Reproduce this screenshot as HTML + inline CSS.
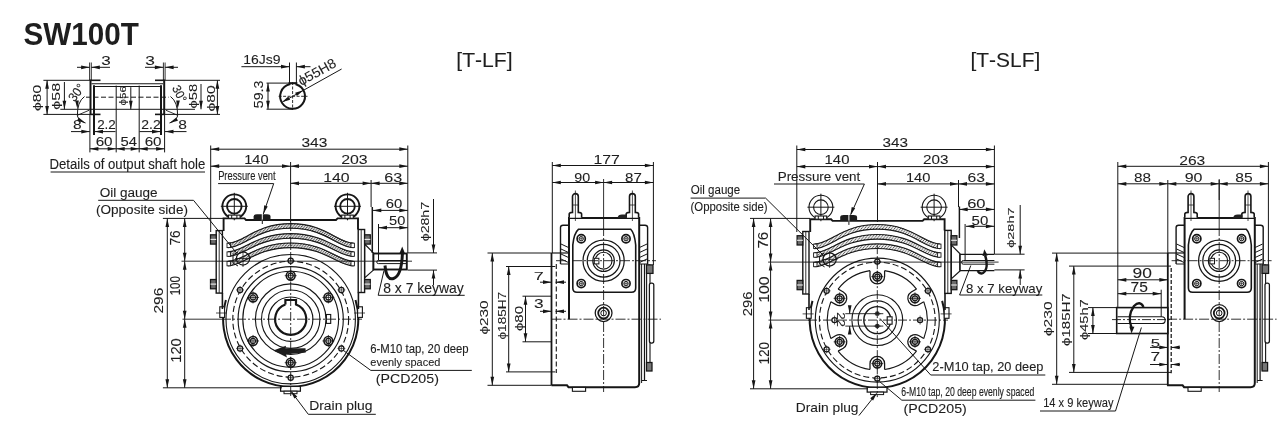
<!DOCTYPE html>
<html><head><meta charset="utf-8"><style>
html,body{margin:0;padding:0;background:#fff;}
svg{display:block;font-family:"Liberation Sans",sans-serif;font-kerning:none;filter:grayscale(100%);}
</style></head><body>
<svg width="1288" height="428" viewBox="0 0 1288 428">
<defs><pattern id="hatch" width="2.2" height="4" patternUnits="userSpaceOnUse" patternTransform="rotate(40)"><rect width="2.2" height="4" fill="#e0e0e0"/><rect width="1.05" height="4" fill="#1e1e1e"/></pattern>
<pattern id="hatch2" width="2.3" height="4" patternUnits="userSpaceOnUse" patternTransform="rotate(40)"><rect width="2.3" height="4" fill="#eeeeee"/><rect width="0.85" height="4" fill="#2a2a2a"/></pattern></defs>
<rect width="1288" height="428" fill="#fff"/>
<text transform="translate(81.45 33.75) translate(-58.01 11.25) scale(0.9209 1)" font-size="32.23" font-weight="bold" fill="#1e1e1e" stroke="#1e1e1e" stroke-width="0">SW100T</text>
<line x1="86" y1="97.2" x2="169" y2="97.2" stroke="#161616" stroke-width="1" stroke-dasharray="5 2.5" stroke-linecap="butt"/>
<line x1="90.5" y1="79.5" x2="90.5" y2="115" stroke="#161616" stroke-width="2" stroke-linecap="butt"/>
<line x1="164.2" y1="79.5" x2="164.2" y2="115" stroke="#161616" stroke-width="2" stroke-linecap="butt"/>
<line x1="94" y1="85.3" x2="94" y2="135" stroke="#161616" stroke-width="2" stroke-linecap="butt"/>
<line x1="161" y1="85.3" x2="161" y2="135" stroke="#161616" stroke-width="2" stroke-linecap="butt"/>
<line x1="90.5" y1="80.3" x2="100.5" y2="80.3" stroke="#161616" stroke-width="1.6" stroke-linecap="butt"/>
<line x1="155" y1="80.3" x2="164.2" y2="80.3" stroke="#161616" stroke-width="1.6" stroke-linecap="butt"/>
<line x1="90.5" y1="114.4" x2="100.5" y2="114.4" stroke="#161616" stroke-width="1.6" stroke-linecap="butt"/>
<line x1="155" y1="114.4" x2="164.2" y2="114.4" stroke="#161616" stroke-width="1.6" stroke-linecap="butt"/>
<line x1="89.6" y1="62.5" x2="89.6" y2="80" stroke="#161616" stroke-width="0.88" stroke-linecap="butt"/>
<line x1="91.3" y1="62.5" x2="91.3" y2="80" stroke="#161616" stroke-width="0.88" stroke-linecap="butt"/>
<line x1="163.4" y1="62.5" x2="163.4" y2="80" stroke="#161616" stroke-width="0.88" stroke-linecap="butt"/>
<line x1="165.1" y1="62.5" x2="165.1" y2="80" stroke="#161616" stroke-width="0.88" stroke-linecap="butt"/>
<line x1="77" y1="67.3" x2="89.6" y2="67.3" stroke="#161616" stroke-width="1" stroke-linecap="butt"/>
<path d="M89.6 67.3L81.1 69.15L81.1 65.45Z" fill="#161616"/>
<line x1="91.3" y1="67.3" x2="110" y2="67.3" stroke="#161616" stroke-width="1" stroke-linecap="butt"/>
<path d="M91.3 67.3L99.8 65.45L99.8 69.15Z" fill="#161616"/>
<line x1="145" y1="67.3" x2="163.4" y2="67.3" stroke="#161616" stroke-width="1" stroke-linecap="butt"/>
<path d="M163.4 67.3L154.9 69.15L154.9 65.45Z" fill="#161616"/>
<line x1="165.1" y1="67.3" x2="178" y2="67.3" stroke="#161616" stroke-width="1" stroke-linecap="butt"/>
<path d="M165.1 67.3L173.6 65.45L173.6 69.15Z" fill="#161616"/>
<text transform="translate(105.85 60.3) translate(-4.7 4.3) scale(1.3866 1)" font-size="12.32" fill="#1e1e1e" stroke="#1e1e1e" stroke-width="0.07">3</text>
<text transform="translate(150.1 60.3) translate(-4.76 4.3) scale(1.4037 1)" font-size="12.32" fill="#1e1e1e" stroke="#1e1e1e" stroke-width="0.07">3</text>
<line x1="43.4" y1="80.3" x2="90" y2="80.3" stroke="#161616" stroke-width="1" stroke-linecap="butt"/>
<line x1="164.5" y1="80.3" x2="220" y2="80.3" stroke="#161616" stroke-width="1" stroke-linecap="butt"/>
<line x1="43.4" y1="114.4" x2="90" y2="114.4" stroke="#161616" stroke-width="1" stroke-linecap="butt"/>
<line x1="164.5" y1="114.4" x2="220" y2="114.4" stroke="#161616" stroke-width="1" stroke-linecap="butt"/>
<line x1="91.5" y1="83.7" x2="163" y2="83.7" stroke="#161616" stroke-width="1.12" stroke-linecap="butt"/>
<line x1="95" y1="86.5" x2="161" y2="86.5" stroke="#161616" stroke-width="1.12" stroke-linecap="butt"/>
<line x1="60.3" y1="109.3" x2="195" y2="109.3" stroke="#161616" stroke-width="1" stroke-linecap="butt"/>
<line x1="116.2" y1="85.6" x2="116.2" y2="152.4" stroke="#161616" stroke-width="1" stroke-linecap="butt"/>
<line x1="139.2" y1="85.6" x2="139.2" y2="152.4" stroke="#161616" stroke-width="1" stroke-linecap="butt"/>
<line x1="130.8" y1="87.2" x2="130.8" y2="109.3" stroke="#161616" stroke-width="1" stroke-linecap="butt"/>
<path d="M130.8 109.3L128.95 100.8L132.65 100.8Z" fill="#161616"/>
<text transform="translate(122.9 95.85) rotate(-90) translate(-9.6 3.3) scale(1.2177 1)" font-size="9.46" fill="#1e1e1e" stroke="#1e1e1e" stroke-width="0.08">ϕ56</text>
<line x1="47.1" y1="80.3" x2="47.1" y2="114.4" stroke="#161616" stroke-width="1" stroke-linecap="butt"/>
<path d="M47.1 80.3L48.95 88.8L45.25 88.8Z" fill="#161616"/>
<path d="M47.1 114.4L45.25 105.9L48.95 105.9Z" fill="#161616"/>
<text transform="translate(37.5 98) rotate(-90) translate(-13.11 3.9) scale(1.4033 1)" font-size="11.17" fill="#1e1e1e" stroke="#1e1e1e" stroke-width="0.07">ϕ80</text>
<line x1="64.4" y1="82" x2="64.4" y2="109.3" stroke="#161616" stroke-width="1" stroke-linecap="butt"/>
<path d="M64.4 109.3L62.55 100.8L66.25 100.8Z" fill="#161616"/>
<text transform="translate(56.05 96.25) rotate(-90) translate(-13.38 3.75) scale(1.4927 1)" font-size="10.74" fill="#1e1e1e" stroke="#1e1e1e" stroke-width="0.07">ϕ58</text>
<line x1="217.4" y1="80.3" x2="217.4" y2="114.4" stroke="#161616" stroke-width="1" stroke-linecap="butt"/>
<path d="M217.4 80.3L219.25 88.8L215.55 88.8Z" fill="#161616"/>
<path d="M217.4 114.4L215.55 105.9L219.25 105.9Z" fill="#161616"/>
<text transform="translate(211.1 98.5) rotate(-90) translate(-13.11 3.9) scale(1.4033 1)" font-size="11.17" fill="#1e1e1e" stroke="#1e1e1e" stroke-width="0.07">ϕ80</text>
<line x1="201" y1="84" x2="201" y2="109.3" stroke="#161616" stroke-width="1" stroke-linecap="butt"/>
<path d="M201 109.3L199.15 100.8L202.85 100.8Z" fill="#161616"/>
<text transform="translate(193 96.25) rotate(-90) translate(-12.33 3.8) scale(1.3575 1)" font-size="10.89" fill="#1e1e1e" stroke="#1e1e1e" stroke-width="0.07">ϕ58</text>
<text transform="translate(76.4 92.6) rotate(-53) translate(-8.96 4.5) scale(0.9324 1)" font-size="12.89" fill="#1e1e1e" stroke="#1e1e1e" stroke-width="0.11">30°</text>
<path d="M84.5 96.5 Q77 102 77.4 116 Q79 121 85.5 123" fill="none" stroke="#161616" stroke-width="1"/>
<path d="M77.4 109L75.13 100.6L78.82 100.42Z" fill="#161616"/>
<path d="M85.5 123L77.07 120.85L78.72 117.54Z" fill="#161616"/>
<line x1="89" y1="110.3" x2="78" y2="115" stroke="#161616" stroke-width="0.88" stroke-linecap="butt"/>
<text transform="translate(179.6 93.6) rotate(62) translate(-8.69 4.3) scale(0.9470 1)" font-size="12.32" fill="#1e1e1e" stroke="#1e1e1e" stroke-width="0.11">30°</text>
<path d="M170.5 96.5 Q178 102 177.6 116 Q176 121 169.5 123" fill="none" stroke="#161616" stroke-width="1"/>
<path d="M177.6 109L176.18 100.42L179.87 100.6Z" fill="#161616"/>
<path d="M169.5 123L176.28 117.54L177.93 120.85Z" fill="#161616"/>
<line x1="166" y1="110.3" x2="177" y2="115" stroke="#161616" stroke-width="0.88" stroke-linecap="butt"/>
<line x1="71" y1="131.6" x2="89.8" y2="131.6" stroke="#161616" stroke-width="1" stroke-linecap="butt"/>
<path d="M89.8 131.6L81.3 133.45L81.3 129.75Z" fill="#161616"/>
<line x1="94.5" y1="131.6" x2="115.5" y2="131.6" stroke="#161616" stroke-width="1" stroke-linecap="butt"/>
<path d="M94.5 131.6L103 129.75L103 133.45Z" fill="#161616"/>
<line x1="139.5" y1="131.6" x2="160.5" y2="131.6" stroke="#161616" stroke-width="1" stroke-linecap="butt"/>
<path d="M160.5 131.6L152 133.45L152 129.75Z" fill="#161616"/>
<line x1="165" y1="131.6" x2="186.5" y2="131.6" stroke="#161616" stroke-width="1" stroke-linecap="butt"/>
<path d="M165 131.6L173.5 129.75L173.5 133.45Z" fill="#161616"/>
<text transform="translate(77.35 124.95) translate(-4.33 4.25) scale(1.2775 1)" font-size="12.18" fill="#1e1e1e" stroke="#1e1e1e" stroke-width="0.08">8</text>
<text transform="translate(106.45 124.95) translate(-9.32 4.25) scale(1.1017 1)" font-size="12.18" fill="#1e1e1e" stroke="#1e1e1e" stroke-width="0.09">2.2</text>
<text transform="translate(151 124.95) translate(-9.7 4.25) scale(1.1462 1)" font-size="12.18" fill="#1e1e1e" stroke="#1e1e1e" stroke-width="0.09">2.2</text>
<text transform="translate(182.65 124.95) translate(-4.33 4.25) scale(1.2775 1)" font-size="12.18" fill="#1e1e1e" stroke="#1e1e1e" stroke-width="0.08">8</text>
<line x1="89.9" y1="115" x2="89.9" y2="152.4" stroke="#161616" stroke-width="1" stroke-linecap="butt"/>
<line x1="164.6" y1="115" x2="164.6" y2="152.4" stroke="#161616" stroke-width="1" stroke-linecap="butt"/>
<line x1="89.9" y1="148.8" x2="116.2" y2="148.8" stroke="#161616" stroke-width="1" stroke-linecap="butt"/>
<path d="M89.9 148.8L98.4 146.95L98.4 150.65Z" fill="#161616"/>
<path d="M116.2 148.8L107.7 150.65L107.7 146.95Z" fill="#161616"/>
<line x1="116.2" y1="148.8" x2="139.2" y2="148.8" stroke="#161616" stroke-width="1" stroke-linecap="butt"/>
<path d="M116.2 148.8L124.7 146.95L124.7 150.65Z" fill="#161616"/>
<path d="M139.2 148.8L130.7 150.65L130.7 146.95Z" fill="#161616"/>
<line x1="139.2" y1="148.8" x2="164.6" y2="148.8" stroke="#161616" stroke-width="1" stroke-linecap="butt"/>
<path d="M139.2 148.8L147.7 146.95L147.7 150.65Z" fill="#161616"/>
<path d="M164.6 148.8L156.1 150.65L156.1 146.95Z" fill="#161616"/>
<text transform="translate(104.2 141.5) translate(-8.57 4.5) scale(1.1833 1)" font-size="12.89" fill="#1e1e1e" stroke="#1e1e1e" stroke-width="0.08">60</text>
<text transform="translate(128.75 141.5) translate(-8.35 4.5) scale(1.1526 1)" font-size="12.89" fill="#1e1e1e" stroke="#1e1e1e" stroke-width="0.09">54</text>
<text transform="translate(153.2 141.5) translate(-8.57 4.5) scale(1.1833 1)" font-size="12.89" fill="#1e1e1e" stroke="#1e1e1e" stroke-width="0.08">60</text>
<text transform="translate(127.8 164.1) translate(-78.28 4.9) scale(0.9253 1)" font-size="14.24" fill="#1e1e1e" stroke="#1e1e1e" stroke-width="0.11">Details of output shaft hole</text>
<line x1="50.6" y1="172" x2="205" y2="172" stroke="#161616" stroke-width="1" stroke-linecap="butt"/>
<path d="M289.5 84.3 A12.4 12.4 0 1 0 296.4 84.5 L296.4 83.3 L289.5 83.3 Z" fill="none" stroke="#161616" stroke-width="2"/>
<line x1="289.5" y1="62.5" x2="289.5" y2="84.3" stroke="#161616" stroke-width="1" stroke-linecap="butt"/>
<line x1="296.4" y1="62.5" x2="296.4" y2="84.3" stroke="#161616" stroke-width="1" stroke-linecap="butt"/>
<line x1="266.5" y1="83.1" x2="296.4" y2="83.1" stroke="#161616" stroke-width="1" stroke-linecap="butt"/>
<line x1="266.5" y1="109.2" x2="292.6" y2="109.2" stroke="#161616" stroke-width="1" stroke-linecap="butt"/>
<line x1="268" y1="83.1" x2="268" y2="109.2" stroke="#161616" stroke-width="1" stroke-linecap="butt"/>
<path d="M268 83.1L269.85 91.6L266.15 91.6Z" fill="#161616"/>
<path d="M268 109.2L266.15 100.7L269.85 100.7Z" fill="#161616"/>
<text transform="translate(258.35 94.45) rotate(-90) translate(-13.82 4.35) scale(1.1416 1)" font-size="12.46" fill="#1e1e1e" stroke="#1e1e1e" stroke-width="0.09">59.3</text>
<line x1="241.4" y1="66.7" x2="289.5" y2="66.7" stroke="#161616" stroke-width="1" stroke-linecap="butt"/>
<path d="M289.5 66.7L281 68.55L281 64.85Z" fill="#161616"/>
<line x1="296.4" y1="66.7" x2="310.5" y2="66.7" stroke="#161616" stroke-width="1" stroke-linecap="butt"/>
<path d="M296.4 66.7L304.9 64.85L304.9 68.55Z" fill="#161616"/>
<text transform="translate(262.2 60.2) translate(-18.87 4.2) scale(1.1624 1)" font-size="12.03" fill="#1e1e1e" stroke="#1e1e1e" stroke-width="0.09">16Js9</text>
<line x1="278.6" y1="96.3" x2="307.5" y2="96.3" stroke="#161616" stroke-width="0.88" stroke-dasharray="3 1.5" stroke-linecap="butt"/>
<line x1="292.6" y1="82" x2="292.6" y2="110" stroke="#161616" stroke-width="0.88" stroke-dasharray="3 1.5" stroke-linecap="butt"/>
<line x1="283.2" y1="101.6" x2="341.6" y2="69" stroke="#161616" stroke-width="1" stroke-linecap="butt"/>
<path d="M281.77 102.34L288.29 96.59L290.1 99.82Z" fill="#161616"/>
<path d="M303.43 90.26L296.91 96.01L295.1 92.78Z" fill="#161616"/>
<text transform="translate(316.9 71.9) rotate(-29.17) translate(-20.54 4.8) scale(1.0140 1)" font-size="13.75" fill="#1e1e1e" stroke="#1e1e1e" stroke-width="0.1">ϕ55H8</text>
<text transform="translate(484.4 59.35) translate(-28.1 7.25) scale(1.0001 1)" font-size="21.08" fill="#1e1e1e" stroke="#1e1e1e" stroke-width="0.1">[T-LF]</text>
<text transform="translate(1005.4 59.35) translate(-34.89 7.25) scale(0.9933 1)" font-size="21.08" fill="#1e1e1e" stroke="#1e1e1e" stroke-width="0.1">[T-SLF]</text>
<path d="M225.88 300 A67.6 67.6 0 1 0 355.52 300" fill="none" stroke="#161616" stroke-width="2"/>
<rect x="219.8" y="306.8" width="4.8" height="10.6" rx="0" fill="#fff" stroke="#161616" stroke-width="1.12"/>
<rect x="357.6" y="306.8" width="4.8" height="10.6" rx="0" fill="#fff" stroke="#161616" stroke-width="1.12"/>
<line x1="216" y1="313" x2="227" y2="313" stroke="#161616" stroke-width="0.75" stroke-linecap="butt"/>
<line x1="354" y1="313" x2="365" y2="313" stroke="#161616" stroke-width="0.75" stroke-linecap="butt"/>
<rect x="280.6" y="386.4" width="19.8" height="4.8" rx="0" fill="#fff" stroke="#161616" stroke-width="1.25"/>
<rect x="284" y="391.2" width="13" height="2.5" rx="0" fill="#fff" stroke="#161616" stroke-width="1"/>
<circle cx="290.7" cy="319.2" r="64.7" fill="none" stroke="#161616" stroke-width="1.12"/>
<circle cx="290.7" cy="319.2" r="57.9" fill="none" stroke="#161616" stroke-width="1.12" stroke-dasharray="6 3"/>
<circle cx="290.7" cy="319.2" r="52.6" fill="none" stroke="#161616" stroke-width="1.12"/>
<circle cx="290.7" cy="319.2" r="47.9" fill="none" stroke="#161616" stroke-width="1.12"/>
<circle cx="290.7" cy="319.2" r="35.3" fill="none" stroke="#161616" stroke-width="1.12"/>
<circle cx="290.7" cy="319.2" r="29.2" fill="none" stroke="#161616" stroke-width="1.12"/>
<circle cx="290.7" cy="319.2" r="22.2" fill="none" stroke="#161616" stroke-width="1.12"/>
<path d="M285.4 304.53 L285.4 300 L296 300 L296 304.53 A15.6 15.6 0 1 1 285.4 304.53" fill="none" stroke="#161616" stroke-width="2.2"/>
<rect x="326.4" y="314.5" width="4.3" height="8.9" rx="0" fill="#fff" stroke="#161616" stroke-width="1.12"/>
<circle cx="290.7" cy="260.7" r="2.6" fill="#fff" stroke="#161616" stroke-width="1.25"/>
<line x1="286.7" y1="260.7" x2="294.7" y2="260.7" stroke="#161616" stroke-width="0.62" stroke-linecap="butt"/>
<line x1="290.7" y1="256.7" x2="290.7" y2="264.7" stroke="#161616" stroke-width="0.62" stroke-linecap="butt"/>
<circle cx="341.36" cy="289.95" r="2.6" fill="#fff" stroke="#161616" stroke-width="1.25"/>
<line x1="337.36" y1="289.95" x2="345.36" y2="289.95" stroke="#161616" stroke-width="0.62" stroke-linecap="butt"/>
<line x1="341.36" y1="285.95" x2="341.36" y2="293.95" stroke="#161616" stroke-width="0.62" stroke-linecap="butt"/>
<circle cx="240.04" cy="289.95" r="2.6" fill="#fff" stroke="#161616" stroke-width="1.25"/>
<line x1="236.04" y1="289.95" x2="244.04" y2="289.95" stroke="#161616" stroke-width="0.62" stroke-linecap="butt"/>
<line x1="240.04" y1="285.95" x2="240.04" y2="293.95" stroke="#161616" stroke-width="0.62" stroke-linecap="butt"/>
<circle cx="240.04" cy="348.45" r="2.6" fill="#fff" stroke="#161616" stroke-width="1.25"/>
<line x1="236.04" y1="348.45" x2="244.04" y2="348.45" stroke="#161616" stroke-width="0.62" stroke-linecap="butt"/>
<line x1="240.04" y1="344.45" x2="240.04" y2="352.45" stroke="#161616" stroke-width="0.62" stroke-linecap="butt"/>
<circle cx="341.36" cy="348.45" r="2.6" fill="#fff" stroke="#161616" stroke-width="1.25"/>
<line x1="337.36" y1="348.45" x2="345.36" y2="348.45" stroke="#161616" stroke-width="0.62" stroke-linecap="butt"/>
<line x1="341.36" y1="344.45" x2="341.36" y2="352.45" stroke="#161616" stroke-width="0.62" stroke-linecap="butt"/>
<circle cx="290.7" cy="377.7" r="2.6" fill="#fff" stroke="#161616" stroke-width="1.25"/>
<line x1="286.7" y1="377.7" x2="294.7" y2="377.7" stroke="#161616" stroke-width="0.62" stroke-linecap="butt"/>
<line x1="290.7" y1="373.7" x2="290.7" y2="381.7" stroke="#161616" stroke-width="0.62" stroke-linecap="butt"/>
<circle cx="290.7" cy="275.7" r="4.4" fill="#fff" stroke="#161616" stroke-width="1.6"/>
<circle cx="290.7" cy="275.7" r="2.5" fill="none" stroke="#161616" stroke-width="1.25"/>
<line x1="284.7" y1="275.7" x2="296.7" y2="275.7" stroke="#161616" stroke-width="0.75" stroke-linecap="butt"/>
<line x1="290.7" y1="269.7" x2="290.7" y2="281.7" stroke="#161616" stroke-width="0.75" stroke-linecap="butt"/>
<circle cx="328.37" cy="297.45" r="4.4" fill="#fff" stroke="#161616" stroke-width="1.6"/>
<circle cx="328.37" cy="297.45" r="2.5" fill="none" stroke="#161616" stroke-width="1.25"/>
<line x1="322.37" y1="297.45" x2="334.37" y2="297.45" stroke="#161616" stroke-width="0.75" stroke-linecap="butt"/>
<line x1="328.37" y1="291.45" x2="328.37" y2="303.45" stroke="#161616" stroke-width="0.75" stroke-linecap="butt"/>
<circle cx="253.03" cy="297.45" r="4.4" fill="#fff" stroke="#161616" stroke-width="1.6"/>
<circle cx="253.03" cy="297.45" r="2.5" fill="none" stroke="#161616" stroke-width="1.25"/>
<line x1="247.03" y1="297.45" x2="259.03" y2="297.45" stroke="#161616" stroke-width="0.75" stroke-linecap="butt"/>
<line x1="253.03" y1="291.45" x2="253.03" y2="303.45" stroke="#161616" stroke-width="0.75" stroke-linecap="butt"/>
<circle cx="253.03" cy="340.95" r="4.4" fill="#fff" stroke="#161616" stroke-width="1.6"/>
<circle cx="253.03" cy="340.95" r="2.5" fill="none" stroke="#161616" stroke-width="1.25"/>
<line x1="247.03" y1="340.95" x2="259.03" y2="340.95" stroke="#161616" stroke-width="0.75" stroke-linecap="butt"/>
<line x1="253.03" y1="334.95" x2="253.03" y2="346.95" stroke="#161616" stroke-width="0.75" stroke-linecap="butt"/>
<circle cx="328.37" cy="340.95" r="4.4" fill="#fff" stroke="#161616" stroke-width="1.6"/>
<circle cx="328.37" cy="340.95" r="2.5" fill="none" stroke="#161616" stroke-width="1.25"/>
<line x1="322.37" y1="340.95" x2="334.37" y2="340.95" stroke="#161616" stroke-width="0.75" stroke-linecap="butt"/>
<line x1="328.37" y1="334.95" x2="328.37" y2="346.95" stroke="#161616" stroke-width="0.75" stroke-linecap="butt"/>
<circle cx="290.7" cy="362.7" r="4.4" fill="#fff" stroke="#161616" stroke-width="1.6"/>
<circle cx="290.7" cy="362.7" r="2.5" fill="none" stroke="#161616" stroke-width="1.25"/>
<line x1="284.7" y1="362.7" x2="296.7" y2="362.7" stroke="#161616" stroke-width="0.75" stroke-linecap="butt"/>
<line x1="290.7" y1="356.7" x2="290.7" y2="368.7" stroke="#161616" stroke-width="0.75" stroke-linecap="butt"/>
<path d="M273.3 350.6 L286 345.8 L285.4 348.6 L305.5 348.2 L305.8 352.4 L286 354.3 L287 357.4 Z" fill="#1c1c1c"/>
<path d="M223.6 231 L223.6 218.4 L244.5 218.4 L246 220 L336 220 L337.6 218.4 L358 218.4 L358 229.5" fill="none" stroke="#161616" stroke-width="1.9"/>
<rect x="216.2" y="230.6" width="6.2" height="62.5" rx="0" fill="none" stroke="#161616" stroke-width="1.4"/>
<line x1="219.2" y1="231" x2="219.2" y2="293" stroke="#161616" stroke-width="0.88" stroke-linecap="butt"/>
<rect x="358.2" y="229.5" width="6.4" height="63" rx="0" fill="none" stroke="#161616" stroke-width="1.4"/>
<line x1="361.2" y1="230" x2="361.2" y2="292.5" stroke="#161616" stroke-width="0.88" stroke-linecap="butt"/>
<rect x="210.5" y="234.8" width="5.7" height="9.3" rx="0" fill="#6a6a6a" stroke="#161616" stroke-width="1.25"/>
<line x1="210.5" y1="239.4" x2="216.2" y2="239.4" stroke="#eee" stroke-width="1.12" stroke-linecap="butt"/>
<rect x="364.6" y="234.8" width="5.7" height="9.3" rx="0" fill="#6a6a6a" stroke="#161616" stroke-width="1.25"/>
<line x1="364.6" y1="239.4" x2="370.3" y2="239.4" stroke="#eee" stroke-width="1.12" stroke-linecap="butt"/>
<rect x="210.5" y="279.5" width="5.7" height="9.3" rx="0" fill="#6a6a6a" stroke="#161616" stroke-width="1.25"/>
<line x1="210.5" y1="284.1" x2="216.2" y2="284.1" stroke="#eee" stroke-width="1.12" stroke-linecap="butt"/>
<rect x="364.6" y="279.5" width="5.7" height="9.3" rx="0" fill="#6a6a6a" stroke="#161616" stroke-width="1.25"/>
<line x1="364.6" y1="284.1" x2="370.3" y2="284.1" stroke="#eee" stroke-width="1.12" stroke-linecap="butt"/>
<line x1="222.4" y1="293" x2="222.4" y2="309" stroke="#161616" stroke-width="1.6" stroke-linecap="butt"/>
<line x1="358.4" y1="292.5" x2="358.4" y2="309" stroke="#161616" stroke-width="1.6" stroke-linecap="butt"/>
<circle cx="234.3" cy="206.3" r="11.9" fill="none" stroke="#161616" stroke-width="1.9"/>
<circle cx="234.3" cy="206.3" r="7.3" fill="none" stroke="#161616" stroke-width="1.9"/>
<line x1="220.8" y1="206.3" x2="247.8" y2="206.3" stroke="#161616" stroke-width="1" stroke-linecap="butt"/>
<line x1="234.3" y1="192.8" x2="234.3" y2="220.3" stroke="#161616" stroke-width="1" stroke-linecap="butt"/>
<rect x="228.5" y="215.1" width="11.6" height="3.2" rx="0" fill="#fff" stroke="#161616" stroke-width="1.12"/>
<line x1="231.7" y1="215.1" x2="231.7" y2="218.3" stroke="#161616" stroke-width="1" stroke-linecap="butt"/>
<line x1="236.9" y1="215.1" x2="236.9" y2="218.3" stroke="#161616" stroke-width="1" stroke-linecap="butt"/>
<circle cx="347.5" cy="206.3" r="11.9" fill="none" stroke="#161616" stroke-width="1.9"/>
<circle cx="347.5" cy="206.3" r="7.3" fill="none" stroke="#161616" stroke-width="1.9"/>
<line x1="334" y1="206.3" x2="361" y2="206.3" stroke="#161616" stroke-width="1" stroke-linecap="butt"/>
<line x1="347.5" y1="192.8" x2="347.5" y2="220.3" stroke="#161616" stroke-width="1" stroke-linecap="butt"/>
<rect x="341.7" y="215.1" width="11.6" height="3.2" rx="0" fill="#fff" stroke="#161616" stroke-width="1.12"/>
<line x1="344.9" y1="215.1" x2="344.9" y2="218.3" stroke="#161616" stroke-width="1" stroke-linecap="butt"/>
<line x1="350.1" y1="215.1" x2="350.1" y2="218.3" stroke="#161616" stroke-width="1" stroke-linecap="butt"/>
<path d="M253.6 220 L253.6 216.5 Q253.6 214.2 257 214.2 L267 214.2 Q270.5 214.2 270.5 216.5 L270.5 220 Z" fill="#1c1c1c"/>
<line x1="262.3" y1="212" x2="262.3" y2="224" stroke="#fff" stroke-width="1" stroke-linecap="butt"/>
<line x1="262.3" y1="219.5" x2="262.3" y2="224" stroke="#161616" stroke-width="1" stroke-linecap="butt"/>
<path d="M227.8 245.4 C243.8 245.4 255.7 225.9 290.7 225.9 C325.7 225.9 337.6 245.4 353.6 245.4" fill="none" stroke="url(#hatch)" stroke-width="5"/>
<path d="M227.8 243.1 C243.8 243.1 255.7 223.6 290.7 223.6 C325.7 223.6 337.6 243.1 353.6 243.1" fill="none" stroke="#1a1a1a" stroke-width="1.12"/>
<path d="M227.8 247.7 C243.8 247.7 255.7 228.2 290.7 228.2 C325.7 228.2 337.6 247.7 353.6 247.7" fill="none" stroke="#1a1a1a" stroke-width="1.12"/>
<path d="M227.8 244.6 C243.8 244.6 255.7 225.1 290.7 225.1 C325.7 225.1 337.6 244.6 353.6 244.6" fill="none" stroke="#f4f4f4" stroke-width="0.62"/>
<path d="M227.8 246.2 C243.8 246.2 255.7 226.7 290.7 226.7 C325.7 226.7 337.6 246.2 353.6 246.2" fill="none" stroke="#f4f4f4" stroke-width="0.62"/>
<rect x="227" y="243.2" width="3.4" height="4.4" rx="0" fill="#fff" stroke="#161616" stroke-width="0.88"/>
<rect x="351" y="243.2" width="3.4" height="4.4" rx="0" fill="#fff" stroke="#161616" stroke-width="0.88"/>
<path d="M227.8 254.1 C243.8 254.1 255.7 235.9 290.7 235.9 C325.7 235.9 337.6 254.1 353.6 254.1" fill="none" stroke="url(#hatch)" stroke-width="5"/>
<path d="M227.8 251.8 C243.8 251.8 255.7 233.6 290.7 233.6 C325.7 233.6 337.6 251.8 353.6 251.8" fill="none" stroke="#1a1a1a" stroke-width="1.12"/>
<path d="M227.8 256.4 C243.8 256.4 255.7 238.2 290.7 238.2 C325.7 238.2 337.6 256.4 353.6 256.4" fill="none" stroke="#1a1a1a" stroke-width="1.12"/>
<path d="M227.8 253.3 C243.8 253.3 255.7 235.1 290.7 235.1 C325.7 235.1 337.6 253.3 353.6 253.3" fill="none" stroke="#f4f4f4" stroke-width="0.62"/>
<path d="M227.8 254.9 C243.8 254.9 255.7 236.7 290.7 236.7 C325.7 236.7 337.6 254.9 353.6 254.9" fill="none" stroke="#f4f4f4" stroke-width="0.62"/>
<rect x="227" y="251.9" width="3.4" height="4.4" rx="0" fill="#fff" stroke="#161616" stroke-width="0.88"/>
<rect x="351" y="251.9" width="3.4" height="4.4" rx="0" fill="#fff" stroke="#161616" stroke-width="0.88"/>
<path d="M227.8 263.6 C243.8 263.6 255.7 245.3 290.7 245.3 C325.7 245.3 337.6 263.6 353.6 263.6" fill="none" stroke="url(#hatch)" stroke-width="5"/>
<path d="M227.8 261.3 C243.8 261.3 255.7 243 290.7 243 C325.7 243 337.6 261.3 353.6 261.3" fill="none" stroke="#1a1a1a" stroke-width="1.12"/>
<path d="M227.8 265.9 C243.8 265.9 255.7 247.6 290.7 247.6 C325.7 247.6 337.6 265.9 353.6 265.9" fill="none" stroke="#1a1a1a" stroke-width="1.12"/>
<path d="M227.8 262.8 C243.8 262.8 255.7 244.5 290.7 244.5 C325.7 244.5 337.6 262.8 353.6 262.8" fill="none" stroke="#f4f4f4" stroke-width="0.62"/>
<path d="M227.8 264.4 C243.8 264.4 255.7 246.1 290.7 246.1 C325.7 246.1 337.6 264.4 353.6 264.4" fill="none" stroke="#f4f4f4" stroke-width="0.62"/>
<rect x="227" y="261.4" width="3.4" height="4.4" rx="0" fill="#fff" stroke="#161616" stroke-width="0.88"/>
<rect x="351" y="261.4" width="3.4" height="4.4" rx="0" fill="#fff" stroke="#161616" stroke-width="0.88"/>
<circle cx="243" cy="258.5" r="6.6" fill="none" stroke="#161616" stroke-width="1.25"/>
<line x1="235" y1="258.5" x2="251" y2="258.5" stroke="#161616" stroke-width="0.75" stroke-linecap="butt"/>
<line x1="243" y1="250" x2="243" y2="267" stroke="#161616" stroke-width="0.75" stroke-linecap="butt"/>
<path d="M238 252 L233 255 L233 263 L238 266" fill="none" stroke="#161616" stroke-width="1"/>
<path d="M364.6 244 L373.4 252.9 L373.4 270.1 L364.6 278 Z" fill="none" stroke="#161616" stroke-width="1.2"/>
<rect x="373.4" y="253.5" width="33.4" height="16" rx="0" fill="none" stroke="#161616" stroke-width="1.9"/>
<path d="M378.3 260.5 L406.2 260.5 M378.3 263.6 L406.2 263.6 M378.3 260.5 A1.55 1.55 0 0 0 378.3 263.6" fill="none" stroke="#161616" stroke-width="1"/>
<line x1="181.5" y1="261.2" x2="412" y2="261.2" stroke="#161616" stroke-width="0.88" stroke-linecap="butt"/>
<line x1="210.7" y1="145.5" x2="210.7" y2="232" stroke="#161616" stroke-width="1" stroke-linecap="butt"/>
<line x1="407.8" y1="145.5" x2="407.8" y2="253" stroke="#161616" stroke-width="1" stroke-linecap="butt"/>
<line x1="210.7" y1="149.2" x2="407.8" y2="149.2" stroke="#161616" stroke-width="1" stroke-linecap="butt"/>
<path d="M210.7 149.2L219.2 147.35L219.2 151.05Z" fill="#161616"/>
<path d="M407.8 149.2L399.3 151.05L399.3 147.35Z" fill="#161616"/>
<line x1="210.7" y1="166.2" x2="290.5" y2="166.2" stroke="#161616" stroke-width="1" stroke-linecap="butt"/>
<path d="M210.7 166.2L219.2 164.35L219.2 168.05Z" fill="#161616"/>
<path d="M290.5 166.2L282 168.05L282 164.35Z" fill="#161616"/>
<line x1="290.5" y1="166.2" x2="407.8" y2="166.2" stroke="#161616" stroke-width="1" stroke-linecap="butt"/>
<path d="M290.5 166.2L299 164.35L299 168.05Z" fill="#161616"/>
<path d="M407.8 166.2L399.3 168.05L399.3 164.35Z" fill="#161616"/>
<line x1="290.5" y1="183.3" x2="371.1" y2="183.3" stroke="#161616" stroke-width="1" stroke-linecap="butt"/>
<path d="M290.5 183.3L299 181.45L299 185.15Z" fill="#161616"/>
<path d="M371.1 183.3L362.6 185.15L362.6 181.45Z" fill="#161616"/>
<line x1="371.1" y1="183.3" x2="407.8" y2="183.3" stroke="#161616" stroke-width="1" stroke-linecap="butt"/>
<path d="M371.1 183.3L379.6 181.45L379.6 185.15Z" fill="#161616"/>
<path d="M407.8 183.3L399.3 185.15L399.3 181.45Z" fill="#161616"/>
<line x1="290.6" y1="162" x2="290.6" y2="222" stroke="#161616" stroke-width="1" stroke-linecap="butt"/>
<line x1="371.1" y1="180" x2="371.1" y2="207" stroke="#161616" stroke-width="1" stroke-linecap="butt"/>
<line x1="372.3" y1="207" x2="372.3" y2="253" stroke="#161616" stroke-width="1.5" stroke-linecap="butt"/>
<line x1="378.5" y1="224" x2="378.5" y2="260" stroke="#161616" stroke-width="1" stroke-linecap="butt"/>
<line x1="372.8" y1="210.4" x2="407.8" y2="210.4" stroke="#161616" stroke-width="1" stroke-linecap="butt"/>
<path d="M372.8 210.4L381.3 208.55L381.3 212.25Z" fill="#161616"/>
<path d="M407.8 210.4L399.3 212.25L399.3 208.55Z" fill="#161616"/>
<line x1="378.5" y1="227.7" x2="407.8" y2="227.7" stroke="#161616" stroke-width="1" stroke-linecap="butt"/>
<path d="M378.5 227.7L387 225.85L387 229.55Z" fill="#161616"/>
<path d="M407.8 227.7L399.3 229.55L399.3 225.85Z" fill="#161616"/>
<line x1="407.8" y1="252.9" x2="437" y2="252.9" stroke="#161616" stroke-width="1" stroke-linecap="butt"/>
<line x1="407.8" y1="270.1" x2="437" y2="270.1" stroke="#161616" stroke-width="1" stroke-linecap="butt"/>
<line x1="433.5" y1="199" x2="433.5" y2="252.9" stroke="#161616" stroke-width="1" stroke-linecap="butt"/>
<path d="M433.5 252.9L431.65 244.4L435.35 244.4Z" fill="#161616"/>
<line x1="433.5" y1="270.1" x2="433.5" y2="285" stroke="#161616" stroke-width="1" stroke-linecap="butt"/>
<path d="M433.5 270.1L435.35 278.6L431.65 278.6Z" fill="#161616"/>
<line x1="162.9" y1="218.4" x2="223.6" y2="218.4" stroke="#161616" stroke-width="1" stroke-linecap="butt"/>
<line x1="167.3" y1="218.4" x2="167.3" y2="387.8" stroke="#161616" stroke-width="1" stroke-linecap="butt"/>
<path d="M167.3 218.4L169.15 226.9L165.45 226.9Z" fill="#161616"/>
<path d="M167.3 387.8L165.45 379.3L169.15 379.3Z" fill="#161616"/>
<line x1="184.7" y1="218.4" x2="184.7" y2="261.2" stroke="#161616" stroke-width="1" stroke-linecap="butt"/>
<path d="M184.7 218.4L186.55 226.9L182.85 226.9Z" fill="#161616"/>
<path d="M184.7 261.2L182.85 252.7L186.55 252.7Z" fill="#161616"/>
<line x1="184.7" y1="261.2" x2="184.7" y2="319.2" stroke="#161616" stroke-width="1" stroke-linecap="butt"/>
<path d="M184.7 261.2L186.55 269.7L182.85 269.7Z" fill="#161616"/>
<path d="M184.7 319.2L182.85 310.7L186.55 310.7Z" fill="#161616"/>
<line x1="184.7" y1="319.2" x2="184.7" y2="387.8" stroke="#161616" stroke-width="1" stroke-linecap="butt"/>
<path d="M184.7 319.2L186.55 327.7L182.85 327.7Z" fill="#161616"/>
<path d="M184.7 387.8L182.85 379.3L186.55 379.3Z" fill="#161616"/>
<line x1="162.9" y1="387.8" x2="282" y2="387.8" stroke="#161616" stroke-width="1" stroke-linecap="butt"/>
<line x1="182.5" y1="319.2" x2="222" y2="319.2" stroke="#161616" stroke-width="0.88" stroke-linecap="butt"/>
<line x1="222" y1="319.2" x2="362" y2="319.2" stroke="#161616" stroke-width="0.88" stroke-dasharray="9 2 2 2" stroke-linecap="butt"/>
<line x1="290.7" y1="222" x2="290.7" y2="396" stroke="#161616" stroke-width="0.88" stroke-dasharray="9 2 2 2" stroke-linecap="butt"/>
<text transform="translate(314.35 142.15) translate(-12.94 4.65) scale(1.1686 1)" font-size="13.32" fill="#1e1e1e" stroke="#1e1e1e" stroke-width="0.09">343</text>
<text transform="translate(256.65 159.15) translate(-12.46 4.65) scale(1.0969 1)" font-size="13.32" fill="#1e1e1e" stroke="#1e1e1e" stroke-width="0.09">140</text>
<text transform="translate(354.5 159.15) translate(-13.3 4.65) scale(1.1919 1)" font-size="13.32" fill="#1e1e1e" stroke="#1e1e1e" stroke-width="0.08">203</text>
<text transform="translate(336.7 177.15) translate(-13.51 4.65) scale(1.1887 1)" font-size="13.32" fill="#1e1e1e" stroke="#1e1e1e" stroke-width="0.08">140</text>
<text transform="translate(393.25 177.15) translate(-9.07 4.65) scale(1.2170 1)" font-size="13.32" fill="#1e1e1e" stroke="#1e1e1e" stroke-width="0.08">63</text>
<text transform="translate(394.2 204.05) translate(-8.35 4.35) scale(1.1927 1)" font-size="12.46" fill="#1e1e1e" stroke="#1e1e1e" stroke-width="0.08">60</text>
<text transform="translate(397.15 221.05) translate(-8.14 4.35) scale(1.1725 1)" font-size="12.46" fill="#1e1e1e" stroke="#1e1e1e" stroke-width="0.09">50</text>
<text transform="translate(425.75 221.7) rotate(-90) translate(-19.55 3.55) scale(1.3860 1)" font-size="10.17" fill="#1e1e1e" stroke="#1e1e1e" stroke-width="0.07">ϕ28h7</text>
<text transform="translate(423.85 287.65) translate(-40.66 4.85) scale(0.9907 1)" font-size="14.1" fill="#1e1e1e" stroke="#1e1e1e" stroke-width="0.1">8 x 7 keyway</text>
<line x1="378.2" y1="295.3" x2="464.7" y2="295.3" stroke="#161616" stroke-width="1" stroke-linecap="butt"/>
<line x1="378.2" y1="295.3" x2="384" y2="270.5" stroke="#161616" stroke-width="1" stroke-linecap="butt"/>
<path d="M385 265.5 Q386.5 281 393.5 278.5 Q401.5 276 402.4 254" fill="none" stroke="#161616" stroke-width="3"/>
<path d="M402.2 246.5L405 253.5L399.4 253.5Z" fill="#161616"/>
<text transform="translate(175.4 237.85) rotate(-90) translate(-7.65 4.8) scale(0.9937 1)" font-size="13.75" fill="#1e1e1e" stroke="#1e1e1e" stroke-width="0.1">76</text>
<text transform="translate(175.4 285.45) rotate(-90) translate(-9.83 4.8) scale(0.8379 1)" font-size="13.75" fill="#1e1e1e" stroke="#1e1e1e" stroke-width="0.12">100</text>
<text transform="translate(158.7 300.55) rotate(-90) translate(-12.93 4.7) scale(1.1462 1)" font-size="13.47" fill="#1e1e1e" stroke="#1e1e1e" stroke-width="0.09">296</text>
<text transform="translate(175.8 350.25) rotate(-90) translate(-12.57 4.8) scale(1.0720 1)" font-size="13.75" fill="#1e1e1e" stroke="#1e1e1e" stroke-width="0.09">120</text>
<text transform="translate(247.25 175.1) translate(-29.11 4.5) scale(0.7129 1)" font-size="13.08" fill="#1e1e1e" stroke="#1e1e1e" stroke-width="0.14">Pressure vent</text>
<line x1="218.1" y1="183.6" x2="273.7" y2="183.6" stroke="#161616" stroke-width="1" stroke-linecap="butt"/>
<line x1="273.7" y1="183.6" x2="263.3" y2="214" stroke="#161616" stroke-width="1" stroke-linecap="butt"/>
<path d="M263.3 214L264.21 205.35L267.72 206.51Z" fill="#161616"/>
<text transform="translate(128.7 192.25) translate(-29.04 4.55) scale(1.0252 1)" font-size="13.23" fill="#1e1e1e" stroke="#1e1e1e" stroke-width="0.1">Oil gauge</text>
<text transform="translate(142 209.05) translate(-46.04 4.55) scale(1.0267 1)" font-size="13.23" fill="#1e1e1e" stroke="#1e1e1e" stroke-width="0.1">(Opposite side)</text>
<line x1="98.2" y1="200.3" x2="193.5" y2="200.3" stroke="#161616" stroke-width="1" stroke-linecap="butt"/>
<line x1="193.5" y1="200.3" x2="237" y2="253.5" stroke="#161616" stroke-width="1" stroke-linecap="butt"/>
<text transform="translate(419.55 348.9) translate(-49.33 4.2) scale(0.9443 1)" font-size="12.03" fill="#1e1e1e" stroke="#1e1e1e" stroke-width="0.11">6-M10 tap, 20 deep</text>
<text transform="translate(405.25 361.7) translate(-34.92 4.2) scale(0.9460 1)" font-size="11.59" fill="#1e1e1e" stroke="#1e1e1e" stroke-width="0.11">evenly spaced</text>
<line x1="370.8" y1="370.4" x2="471.8" y2="370.4" stroke="#161616" stroke-width="1" stroke-linecap="butt"/>
<line x1="370.8" y1="370.4" x2="343.5" y2="350.5" stroke="#161616" stroke-width="1" stroke-linecap="butt"/>
<text transform="translate(407.35 379.1) translate(-31.53 4.1) scale(1.1901 1)" font-size="11.92" fill="#1e1e1e" stroke="#1e1e1e" stroke-width="0.08">(PCD205)</text>
<text transform="translate(341 405) translate(-31.84 4.5) scale(1.0639 1)" font-size="13.08" fill="#1e1e1e" stroke="#1e1e1e" stroke-width="0.09">Drain plug</text>
<line x1="308.3" y1="414.3" x2="375.8" y2="414.3" stroke="#161616" stroke-width="1" stroke-linecap="butt"/>
<line x1="308.3" y1="414.3" x2="291.5" y2="392" stroke="#161616" stroke-width="1" stroke-linecap="butt"/>
<path d="M290.7 390.7L297.28 396.39L294.32 398.61Z" fill="#161616"/>
<path d="M560.5 264 L560.5 227.5 Q560.5 225.2 563 225.2 L569 225.2" fill="none" stroke="#161616" stroke-width="1.4"/>
<path d="M647.6 264 L647.6 227.5 Q647.6 225.2 645 225.2 L639 225.2" fill="none" stroke="#161616" stroke-width="1.4"/>
<line x1="561" y1="244" x2="568.5" y2="247.5" stroke="#161616" stroke-width="1" stroke-linecap="butt"/>
<line x1="647" y1="244" x2="639.5" y2="247.5" stroke="#161616" stroke-width="1" stroke-linecap="butt"/>
<line x1="561" y1="249" x2="568.5" y2="252.5" stroke="#161616" stroke-width="1" stroke-linecap="butt"/>
<line x1="647" y1="249" x2="639.5" y2="252.5" stroke="#161616" stroke-width="1" stroke-linecap="butt"/>
<line x1="561" y1="254" x2="568.5" y2="257.5" stroke="#161616" stroke-width="1" stroke-linecap="butt"/>
<line x1="647" y1="254" x2="639.5" y2="257.5" stroke="#161616" stroke-width="1" stroke-linecap="butt"/>
<line x1="561" y1="259" x2="568.5" y2="262.5" stroke="#161616" stroke-width="1" stroke-linecap="butt"/>
<line x1="647" y1="259" x2="639.5" y2="262.5" stroke="#161616" stroke-width="1" stroke-linecap="butt"/>
<line x1="560.5" y1="264" x2="569" y2="264" stroke="#161616" stroke-width="1" stroke-linecap="butt"/>
<line x1="647.6" y1="264" x2="639" y2="264" stroke="#161616" stroke-width="1" stroke-linecap="butt"/>
<path d="M569 319.2 L569 218 L639.2 218 L639.2 383 Q639.2 387.2 635 387.2 L568.5 387.2 L567 385.3 L551.5 385.3" fill="none" stroke="#161616" stroke-width="2"/>
<line x1="644.5" y1="264" x2="644.5" y2="380.5" stroke="#161616" stroke-width="1.25" stroke-linecap="butt"/>
<line x1="641.6" y1="264" x2="641.6" y2="383" stroke="#161616" stroke-width="1" stroke-linecap="butt"/>
<line x1="641.6" y1="380.5" x2="647" y2="380.5" stroke="#161616" stroke-width="1" stroke-linecap="butt"/>
<rect x="646.6" y="265" width="3.4" height="105" rx="0" fill="#fff" stroke="#161616" stroke-width="1.12"/>
<rect x="649.4" y="283" width="4.4" height="60" rx="2" fill="#fff" stroke="#161616" stroke-width="1.25"/>
<rect x="646.5" y="264.9" width="6.5" height="8.5" rx="0" fill="#777" stroke="#161616" stroke-width="1.25"/>
<rect x="646.5" y="362.5" width="5.5" height="8.5" rx="0" fill="#777" stroke="#161616" stroke-width="1.25"/>
<path d="M577 292.3 Q572.8 292.3 572.8 288 L572.8 245 Q574 233 578.4 229.3 L630.7 229.3 Q634.5 233 635.7 245 L635.7 288 Q635.7 292.3 631.5 292.3 Z" fill="none" stroke="#161616" stroke-width="1.6"/>
<circle cx="581.2" cy="238.7" r="4.1" fill="none" stroke="#161616" stroke-width="1.7"/>
<circle cx="581.2" cy="238.7" r="2.2" fill="none" stroke="#161616" stroke-width="1"/>
<line x1="579.2" y1="238.7" x2="583.2" y2="238.7" stroke="#161616" stroke-width="0.62" stroke-linecap="butt"/>
<line x1="581.2" y1="236.7" x2="581.2" y2="240.7" stroke="#161616" stroke-width="0.62" stroke-linecap="butt"/>
<circle cx="626" cy="238.7" r="4.1" fill="none" stroke="#161616" stroke-width="1.7"/>
<circle cx="626" cy="238.7" r="2.2" fill="none" stroke="#161616" stroke-width="1"/>
<line x1="624" y1="238.7" x2="628" y2="238.7" stroke="#161616" stroke-width="0.62" stroke-linecap="butt"/>
<line x1="626" y1="236.7" x2="626" y2="240.7" stroke="#161616" stroke-width="0.62" stroke-linecap="butt"/>
<circle cx="581.2" cy="283.6" r="4.1" fill="none" stroke="#161616" stroke-width="1.7"/>
<circle cx="581.2" cy="283.6" r="2.2" fill="none" stroke="#161616" stroke-width="1"/>
<line x1="579.2" y1="283.6" x2="583.2" y2="283.6" stroke="#161616" stroke-width="0.62" stroke-linecap="butt"/>
<line x1="581.2" y1="281.6" x2="581.2" y2="285.6" stroke="#161616" stroke-width="0.62" stroke-linecap="butt"/>
<circle cx="626" cy="283.6" r="4.1" fill="none" stroke="#161616" stroke-width="1.7"/>
<circle cx="626" cy="283.6" r="2.2" fill="none" stroke="#161616" stroke-width="1"/>
<line x1="624" y1="283.6" x2="628" y2="283.6" stroke="#161616" stroke-width="0.62" stroke-linecap="butt"/>
<line x1="626" y1="281.6" x2="626" y2="285.6" stroke="#161616" stroke-width="0.62" stroke-linecap="butt"/>
<circle cx="603.6" cy="260.7" r="20.6" fill="none" stroke="#161616" stroke-width="1.25"/>
<circle cx="603.6" cy="260.7" r="16.4" fill="none" stroke="#161616" stroke-width="1.25"/>
<circle cx="603.6" cy="260.7" r="10.8" fill="none" stroke="#161616" stroke-width="1.2"/>
<circle cx="603.6" cy="260.7" r="8.4" fill="none" stroke="#161616" stroke-width="1.12"/>
<rect x="594.3" y="258.3" width="4.6" height="5.6" rx="0" fill="#fff" stroke="#161616" stroke-width="1"/>
<circle cx="603.6" cy="313.1" r="8.4" fill="none" stroke="#161616" stroke-width="1.25"/>
<circle cx="603.6" cy="313.1" r="5.4" fill="none" stroke="#161616" stroke-width="1.8"/>
<circle cx="603.6" cy="313.1" r="2.8" fill="none" stroke="#161616" stroke-width="1"/>
<rect x="572.4" y="387.4" width="13.2" height="3.9" rx="0" fill="#fff" stroke="#161616" stroke-width="1.1"/>
<path d="M569.2 217.7 L569.2 214 Q569.2 212.6 572.5 212.4 L572.5 196.5 A2.9 2.9 0 0 1 578.3 196.5 L578.3 212.4 Q581.6 212.6 581.6 214 L581.6 217.7" fill="#fff" stroke="#161616" stroke-width="1.6"/>
<line x1="575.4" y1="190.5" x2="575.4" y2="221" stroke="#161616" stroke-width="0.75" stroke-linecap="butt"/>
<line x1="572.5" y1="205" x2="578.3" y2="205" stroke="#161616" stroke-width="0.75" stroke-linecap="butt"/>
<path d="M626.2 217.7 L626.2 214 Q626.2 212.6 629.5 212.4 L629.5 196.5 A2.9 2.9 0 0 1 635.3 196.5 L635.3 212.4 Q638.6 212.6 638.6 214 L638.6 217.7" fill="#fff" stroke="#161616" stroke-width="1.6"/>
<line x1="632.4" y1="190.5" x2="632.4" y2="221" stroke="#161616" stroke-width="0.75" stroke-linecap="butt"/>
<line x1="629.5" y1="205" x2="635.3" y2="205" stroke="#161616" stroke-width="0.75" stroke-linecap="butt"/>
<path d="M617.5 218 Q618 214.6 622 214.6 L626.8 214.6 L626.8 218 Z" fill="#222"/>
<line x1="603.6" y1="179" x2="603.6" y2="226" stroke="#161616" stroke-width="0.88" stroke-linecap="butt"/>
<line x1="603.6" y1="226" x2="603.6" y2="392" stroke="#161616" stroke-width="0.88" stroke-dasharray="10 2 2 2" stroke-linecap="butt"/>
<line x1="556" y1="260.7" x2="656" y2="260.7" stroke="#161616" stroke-width="0.88" stroke-dasharray="10 2 2 2" stroke-linecap="butt"/>
<line x1="551.5" y1="319.2" x2="661" y2="319.2" stroke="#161616" stroke-width="0.88" stroke-dasharray="10 2 2 2" stroke-linecap="butt"/>
<line x1="551.5" y1="253" x2="551.5" y2="385.3" stroke="#161616" stroke-width="1.8" stroke-linecap="butt"/>
<line x1="551.5" y1="253" x2="569" y2="253" stroke="#161616" stroke-width="1.2" stroke-linecap="butt"/>
<line x1="556.3" y1="264" x2="556.3" y2="373" stroke="#161616" stroke-width="1.1" stroke-dasharray="5 2.5" stroke-linecap="butt"/>
<line x1="552.3" y1="162" x2="552.3" y2="253" stroke="#161616" stroke-width="1" stroke-linecap="butt"/>
<line x1="653.4" y1="162" x2="653.4" y2="265" stroke="#161616" stroke-width="1" stroke-linecap="butt"/>
<line x1="552.3" y1="165.5" x2="653.4" y2="165.5" stroke="#161616" stroke-width="1" stroke-linecap="butt"/>
<path d="M552.3 165.5L560.8 163.65L560.8 167.35Z" fill="#161616"/>
<path d="M653.4 165.5L644.9 167.35L644.9 163.65Z" fill="#161616"/>
<line x1="552.3" y1="182.5" x2="603.6" y2="182.5" stroke="#161616" stroke-width="1" stroke-linecap="butt"/>
<path d="M552.3 182.5L560.8 180.65L560.8 184.35Z" fill="#161616"/>
<path d="M603.6 182.5L595.1 184.35L595.1 180.65Z" fill="#161616"/>
<line x1="603.6" y1="182.5" x2="653.4" y2="182.5" stroke="#161616" stroke-width="1" stroke-linecap="butt"/>
<path d="M603.6 182.5L612.1 180.65L612.1 184.35Z" fill="#161616"/>
<path d="M653.4 182.5L644.9 184.35L644.9 180.65Z" fill="#161616"/>
<text transform="translate(606.8 159.65) translate(-13.41 4.65) scale(1.1876 1)" font-size="13.32" fill="#1e1e1e" stroke="#1e1e1e" stroke-width="0.08">177</text>
<text transform="translate(582.35 177.4) translate(-8.02 4.6) scale(1.0866 1)" font-size="13.18" fill="#1e1e1e" stroke="#1e1e1e" stroke-width="0.09">90</text>
<text transform="translate(633.35 177.4) translate(-8.3 4.6) scale(1.1397 1)" font-size="13.18" fill="#1e1e1e" stroke="#1e1e1e" stroke-width="0.09">87</text>
<line x1="487.5" y1="253" x2="551.5" y2="253" stroke="#161616" stroke-width="1" stroke-linecap="butt"/>
<line x1="487.5" y1="385.3" x2="551.5" y2="385.3" stroke="#161616" stroke-width="1" stroke-linecap="butt"/>
<line x1="492.3" y1="253" x2="492.3" y2="385.3" stroke="#161616" stroke-width="1" stroke-linecap="butt"/>
<path d="M492.3 253L494.15 261.5L490.45 261.5Z" fill="#161616"/>
<path d="M492.3 385.3L490.45 376.8L494.15 376.8Z" fill="#161616"/>
<line x1="506" y1="266.5" x2="555.3" y2="266.5" stroke="#161616" stroke-width="1" stroke-linecap="butt"/>
<line x1="506" y1="371.9" x2="555.3" y2="371.9" stroke="#161616" stroke-width="1" stroke-linecap="butt"/>
<line x1="508.7" y1="266.5" x2="508.7" y2="371.9" stroke="#161616" stroke-width="1" stroke-linecap="butt"/>
<path d="M508.7 266.5L510.55 275L506.85 275Z" fill="#161616"/>
<path d="M508.7 371.9L506.85 363.4L510.55 363.4Z" fill="#161616"/>
<line x1="522.5" y1="296.2" x2="551.5" y2="296.2" stroke="#161616" stroke-width="1" stroke-linecap="butt"/>
<line x1="522.5" y1="341.8" x2="551.5" y2="341.8" stroke="#161616" stroke-width="1" stroke-linecap="butt"/>
<line x1="525.5" y1="296.2" x2="525.5" y2="341.8" stroke="#161616" stroke-width="1" stroke-linecap="butt"/>
<path d="M525.5 296.2L527.35 304.7L523.65 304.7Z" fill="#161616"/>
<path d="M525.5 341.8L523.65 333.3L527.35 333.3Z" fill="#161616"/>
<text transform="translate(484.5 317.5) rotate(-90) translate(-17.1 3.5) scale(1.5302 1)" font-size="10.03" fill="#1e1e1e" stroke="#1e1e1e" stroke-width="0.07">ϕ230</text>
<text transform="translate(502.7 315.75) rotate(-90) translate(-23.78 3.5) scale(1.3568 1)" font-size="10.03" fill="#1e1e1e" stroke="#1e1e1e" stroke-width="0.07">ϕ185H7</text>
<text transform="translate(519.25 318.5) rotate(-90) translate(-12.59 3.55) scale(1.4800 1)" font-size="10.17" fill="#1e1e1e" stroke="#1e1e1e" stroke-width="0.07">ϕ80</text>
<line x1="540" y1="282.2" x2="551.5" y2="282.2" stroke="#161616" stroke-width="1" stroke-linecap="butt"/>
<path d="M551.5 282.2L543 284.05L543 280.35Z" fill="#161616"/>
<line x1="555.5" y1="282.2" x2="566" y2="282.2" stroke="#161616" stroke-width="1" stroke-linecap="butt"/>
<path d="M555.5 282.2L564 280.35L564 284.05Z" fill="#161616"/>
<line x1="540" y1="311.3" x2="551.5" y2="311.3" stroke="#161616" stroke-width="1" stroke-linecap="butt"/>
<path d="M551.5 311.3L543 313.15L543 309.45Z" fill="#161616"/>
<line x1="555.5" y1="311.3" x2="566" y2="311.3" stroke="#161616" stroke-width="1" stroke-linecap="butt"/>
<path d="M555.5 311.3L564 309.45L564 313.15Z" fill="#161616"/>
<text transform="translate(538.7 275.9) translate(-5.02 4.1) scale(1.5355 1)" font-size="11.75" fill="#1e1e1e" stroke="#1e1e1e" stroke-width="0.07">7</text>
<text transform="translate(538.7 303.4) translate(-4.76 4.2) scale(1.4371 1)" font-size="12.03" fill="#1e1e1e" stroke="#1e1e1e" stroke-width="0.07">3</text>
<g transform="translate(586.6 0.9)">
<path d="M225.88 300 A67.6 67.6 0 1 0 355.52 300" fill="none" stroke="#161616" stroke-width="2"/>
<rect x="219.8" y="306.8" width="4.8" height="10.6" rx="0" fill="#fff" stroke="#161616" stroke-width="1.12"/>
<rect x="357.6" y="306.8" width="4.8" height="10.6" rx="0" fill="#fff" stroke="#161616" stroke-width="1.12"/>
<line x1="216" y1="313" x2="227" y2="313" stroke="#161616" stroke-width="0.75" stroke-linecap="butt"/>
<line x1="354" y1="313" x2="365" y2="313" stroke="#161616" stroke-width="0.75" stroke-linecap="butt"/>
<rect x="280.6" y="386.4" width="19.8" height="4.8" rx="0" fill="#fff" stroke="#161616" stroke-width="1.25"/>
<rect x="284" y="391.2" width="13" height="2.5" rx="0" fill="#fff" stroke="#161616" stroke-width="1"/>
<circle cx="290.7" cy="319.2" r="62" fill="none" stroke="#161616" stroke-width="1.12"/>
<circle cx="290.7" cy="319.2" r="57.9" fill="none" stroke="#161616" stroke-width="1.12" stroke-dasharray="6 3"/>
<path d="M283.4 269.74 A50 50 0 0 0 251.51 288.15" fill="none" stroke="#161616" stroke-width="1.1"/>
<path d="M329.89 288.15 A50 50 0 0 0 298 269.74" fill="none" stroke="#161616" stroke-width="1.1"/>
<path d="M337.19 337.61 A50 50 0 0 0 337.19 300.79" fill="none" stroke="#161616" stroke-width="1.1"/>
<path d="M298 368.66 A50 50 0 0 0 329.89 350.25" fill="none" stroke="#161616" stroke-width="1.1"/>
<path d="M251.51 350.25 A50 50 0 0 0 283.4 368.66" fill="none" stroke="#161616" stroke-width="1.1"/>
<path d="M244.21 300.79 A50 50 0 0 0 244.21 337.61" fill="none" stroke="#161616" stroke-width="1.1"/>
<circle cx="290.7" cy="319.2" r="25.4" fill="none" stroke="#161616" stroke-width="1.12"/>
<circle cx="290.7" cy="319.2" r="19.2" fill="none" stroke="#161616" stroke-width="1.12"/>
<circle cx="290.7" cy="319.2" r="13.5" fill="none" stroke="#161616" stroke-width="1.4"/>
<line x1="258.7" y1="312.8" x2="296.7" y2="312.8" stroke="#161616" stroke-width="0.88" stroke-linecap="butt"/>
<circle cx="290.7" cy="312.8" r="2.4" fill="#333"/>
<line x1="287.2" y1="312.8" x2="294.2" y2="312.8" stroke="#161616" stroke-width="0.62" stroke-linecap="butt"/>
<line x1="258.7" y1="325.2" x2="296.7" y2="325.2" stroke="#161616" stroke-width="0.88" stroke-linecap="butt"/>
<circle cx="290.7" cy="325.2" r="2.4" fill="#333"/>
<line x1="287.2" y1="325.2" x2="294.2" y2="325.2" stroke="#161616" stroke-width="0.62" stroke-linecap="butt"/>
<rect x="300.6" y="315.9" width="4.9" height="7.4" rx="0" fill="#fff" stroke="#161616" stroke-width="1.12"/>
<path d="M298 269.74 L298 275.7 A7.3 7.3 0 0 1 283.4 275.7 L283.4 269.74" fill="none" stroke="#161616" stroke-width="1.25"/>
<circle cx="290.7" cy="275.7" r="4.4" fill="#fff" stroke="#161616" stroke-width="1.6"/>
<circle cx="290.7" cy="275.7" r="2.5" fill="none" stroke="#161616" stroke-width="1.25"/>
<line x1="284.7" y1="275.7" x2="296.7" y2="275.7" stroke="#161616" stroke-width="0.75" stroke-linecap="butt"/>
<line x1="290.7" y1="269.7" x2="290.7" y2="281.7" stroke="#161616" stroke-width="0.75" stroke-linecap="butt"/>
<path d="M337.19 300.79 L332.02 303.77 A7.3 7.3 0 0 1 324.72 291.13 L329.89 288.15" fill="none" stroke="#161616" stroke-width="1.25"/>
<circle cx="328.37" cy="297.45" r="4.4" fill="#fff" stroke="#161616" stroke-width="1.6"/>
<circle cx="328.37" cy="297.45" r="2.5" fill="none" stroke="#161616" stroke-width="1.25"/>
<line x1="322.37" y1="297.45" x2="334.37" y2="297.45" stroke="#161616" stroke-width="0.75" stroke-linecap="butt"/>
<line x1="328.37" y1="291.45" x2="328.37" y2="303.45" stroke="#161616" stroke-width="0.75" stroke-linecap="butt"/>
<path d="M251.51 288.15 L256.68 291.13 A7.3 7.3 0 0 1 249.38 303.77 L244.21 300.79" fill="none" stroke="#161616" stroke-width="1.25"/>
<circle cx="253.03" cy="297.45" r="4.4" fill="#fff" stroke="#161616" stroke-width="1.6"/>
<circle cx="253.03" cy="297.45" r="2.5" fill="none" stroke="#161616" stroke-width="1.25"/>
<line x1="247.03" y1="297.45" x2="259.03" y2="297.45" stroke="#161616" stroke-width="0.75" stroke-linecap="butt"/>
<line x1="253.03" y1="291.45" x2="253.03" y2="303.45" stroke="#161616" stroke-width="0.75" stroke-linecap="butt"/>
<path d="M244.21 337.61 L249.38 334.63 A7.3 7.3 0 0 1 256.68 347.27 L251.51 350.25" fill="none" stroke="#161616" stroke-width="1.25"/>
<circle cx="253.03" cy="340.95" r="4.4" fill="#fff" stroke="#161616" stroke-width="1.6"/>
<circle cx="253.03" cy="340.95" r="2.5" fill="none" stroke="#161616" stroke-width="1.25"/>
<line x1="247.03" y1="340.95" x2="259.03" y2="340.95" stroke="#161616" stroke-width="0.75" stroke-linecap="butt"/>
<line x1="253.03" y1="334.95" x2="253.03" y2="346.95" stroke="#161616" stroke-width="0.75" stroke-linecap="butt"/>
<path d="M329.89 350.25 L324.72 347.27 A7.3 7.3 0 0 1 332.02 334.63 L337.19 337.61" fill="none" stroke="#161616" stroke-width="1.25"/>
<circle cx="328.37" cy="340.95" r="4.4" fill="#fff" stroke="#161616" stroke-width="1.6"/>
<circle cx="328.37" cy="340.95" r="2.5" fill="none" stroke="#161616" stroke-width="1.25"/>
<line x1="322.37" y1="340.95" x2="334.37" y2="340.95" stroke="#161616" stroke-width="0.75" stroke-linecap="butt"/>
<line x1="328.37" y1="334.95" x2="328.37" y2="346.95" stroke="#161616" stroke-width="0.75" stroke-linecap="butt"/>
<path d="M283.4 368.66 L283.4 362.7 A7.3 7.3 0 0 1 298 362.7 L298 368.66" fill="none" stroke="#161616" stroke-width="1.25"/>
<circle cx="290.7" cy="362.7" r="4.4" fill="#fff" stroke="#161616" stroke-width="1.6"/>
<circle cx="290.7" cy="362.7" r="2.5" fill="none" stroke="#161616" stroke-width="1.25"/>
<line x1="284.7" y1="362.7" x2="296.7" y2="362.7" stroke="#161616" stroke-width="0.75" stroke-linecap="butt"/>
<line x1="290.7" y1="356.7" x2="290.7" y2="368.7" stroke="#161616" stroke-width="0.75" stroke-linecap="butt"/>
<circle cx="290.7" cy="260.7" r="2.6" fill="#fff" stroke="#161616" stroke-width="1.25"/>
<line x1="286.7" y1="260.7" x2="294.7" y2="260.7" stroke="#161616" stroke-width="0.62" stroke-linecap="butt"/>
<line x1="290.7" y1="256.7" x2="290.7" y2="264.7" stroke="#161616" stroke-width="0.62" stroke-linecap="butt"/>
<circle cx="341.36" cy="289.95" r="2.6" fill="#fff" stroke="#161616" stroke-width="1.25"/>
<line x1="337.36" y1="289.95" x2="345.36" y2="289.95" stroke="#161616" stroke-width="0.62" stroke-linecap="butt"/>
<line x1="341.36" y1="285.95" x2="341.36" y2="293.95" stroke="#161616" stroke-width="0.62" stroke-linecap="butt"/>
<circle cx="240.04" cy="289.95" r="2.6" fill="#fff" stroke="#161616" stroke-width="1.25"/>
<line x1="236.04" y1="289.95" x2="244.04" y2="289.95" stroke="#161616" stroke-width="0.62" stroke-linecap="butt"/>
<line x1="240.04" y1="285.95" x2="240.04" y2="293.95" stroke="#161616" stroke-width="0.62" stroke-linecap="butt"/>
<circle cx="240.04" cy="348.45" r="2.6" fill="#fff" stroke="#161616" stroke-width="1.25"/>
<line x1="236.04" y1="348.45" x2="244.04" y2="348.45" stroke="#161616" stroke-width="0.62" stroke-linecap="butt"/>
<line x1="240.04" y1="344.45" x2="240.04" y2="352.45" stroke="#161616" stroke-width="0.62" stroke-linecap="butt"/>
<circle cx="341.36" cy="348.45" r="2.6" fill="#fff" stroke="#161616" stroke-width="1.25"/>
<line x1="337.36" y1="348.45" x2="345.36" y2="348.45" stroke="#161616" stroke-width="0.62" stroke-linecap="butt"/>
<line x1="341.36" y1="344.45" x2="341.36" y2="352.45" stroke="#161616" stroke-width="0.62" stroke-linecap="butt"/>
<circle cx="290.7" cy="377.7" r="2.6" fill="#fff" stroke="#161616" stroke-width="1.25"/>
<line x1="286.7" y1="377.7" x2="294.7" y2="377.7" stroke="#161616" stroke-width="0.62" stroke-linecap="butt"/>
<line x1="290.7" y1="373.7" x2="290.7" y2="381.7" stroke="#161616" stroke-width="0.62" stroke-linecap="butt"/>
<circle cx="333.5" cy="319.2" r="2.6" fill="#fff" stroke="#161616" stroke-width="1.25"/>
<line x1="333.5" y1="314.7" x2="333.5" y2="323.7" stroke="#161616" stroke-width="0.62" stroke-linecap="butt"/>
<circle cx="247.9" cy="319.2" r="2.6" fill="#fff" stroke="#161616" stroke-width="1.25"/>
<line x1="247.9" y1="314.7" x2="247.9" y2="323.7" stroke="#161616" stroke-width="0.62" stroke-linecap="butt"/>
<path d="M223.6 231 L223.6 218.4 L244.5 218.4 L246 220 L336 220 L337.6 218.4 L358 218.4 L358 229.5" fill="none" stroke="#161616" stroke-width="1.9"/>
<rect x="216.2" y="230.6" width="6.2" height="62.5" rx="0" fill="none" stroke="#161616" stroke-width="1.4"/>
<line x1="219.2" y1="231" x2="219.2" y2="293" stroke="#161616" stroke-width="0.88" stroke-linecap="butt"/>
<rect x="358.2" y="229.5" width="6.4" height="63" rx="0" fill="none" stroke="#161616" stroke-width="1.4"/>
<line x1="361.2" y1="230" x2="361.2" y2="292.5" stroke="#161616" stroke-width="0.88" stroke-linecap="butt"/>
<rect x="210.5" y="234.8" width="5.7" height="9.3" rx="0" fill="#6a6a6a" stroke="#161616" stroke-width="1.25"/>
<line x1="210.5" y1="239.4" x2="216.2" y2="239.4" stroke="#eee" stroke-width="1.12" stroke-linecap="butt"/>
<rect x="364.6" y="234.8" width="5.7" height="9.3" rx="0" fill="#6a6a6a" stroke="#161616" stroke-width="1.25"/>
<line x1="364.6" y1="239.4" x2="370.3" y2="239.4" stroke="#eee" stroke-width="1.12" stroke-linecap="butt"/>
<rect x="210.5" y="279.5" width="5.7" height="9.3" rx="0" fill="#6a6a6a" stroke="#161616" stroke-width="1.25"/>
<line x1="210.5" y1="284.1" x2="216.2" y2="284.1" stroke="#eee" stroke-width="1.12" stroke-linecap="butt"/>
<rect x="364.6" y="279.5" width="5.7" height="9.3" rx="0" fill="#6a6a6a" stroke="#161616" stroke-width="1.25"/>
<line x1="364.6" y1="284.1" x2="370.3" y2="284.1" stroke="#eee" stroke-width="1.12" stroke-linecap="butt"/>
<line x1="222.4" y1="293" x2="222.4" y2="309" stroke="#161616" stroke-width="1.6" stroke-linecap="butt"/>
<line x1="358.4" y1="292.5" x2="358.4" y2="309" stroke="#161616" stroke-width="1.6" stroke-linecap="butt"/>
<circle cx="234.3" cy="206.3" r="11.9" fill="none" stroke="#161616" stroke-width="1.1"/>
<circle cx="234.3" cy="206.3" r="7.3" fill="none" stroke="#161616" stroke-width="1.1"/>
<line x1="220.8" y1="206.3" x2="247.8" y2="206.3" stroke="#161616" stroke-width="1" stroke-linecap="butt"/>
<line x1="234.3" y1="192.8" x2="234.3" y2="220.3" stroke="#161616" stroke-width="1" stroke-linecap="butt"/>
<rect x="228.5" y="215.1" width="11.6" height="3.2" rx="0" fill="#fff" stroke="#161616" stroke-width="1.12"/>
<line x1="231.7" y1="215.1" x2="231.7" y2="218.3" stroke="#161616" stroke-width="1" stroke-linecap="butt"/>
<line x1="236.9" y1="215.1" x2="236.9" y2="218.3" stroke="#161616" stroke-width="1" stroke-linecap="butt"/>
<circle cx="347.5" cy="206.3" r="11.9" fill="none" stroke="#161616" stroke-width="1.1"/>
<circle cx="347.5" cy="206.3" r="7.3" fill="none" stroke="#161616" stroke-width="1.1"/>
<line x1="334" y1="206.3" x2="361" y2="206.3" stroke="#161616" stroke-width="1" stroke-linecap="butt"/>
<line x1="347.5" y1="192.8" x2="347.5" y2="220.3" stroke="#161616" stroke-width="1" stroke-linecap="butt"/>
<rect x="341.7" y="215.1" width="11.6" height="3.2" rx="0" fill="#fff" stroke="#161616" stroke-width="1.12"/>
<line x1="344.9" y1="215.1" x2="344.9" y2="218.3" stroke="#161616" stroke-width="1" stroke-linecap="butt"/>
<line x1="350.1" y1="215.1" x2="350.1" y2="218.3" stroke="#161616" stroke-width="1" stroke-linecap="butt"/>
<path d="M253.6 220 L253.6 216.5 Q253.6 214.2 257 214.2 L267 214.2 Q270.5 214.2 270.5 216.5 L270.5 220 Z" fill="#1c1c1c"/>
<line x1="262.3" y1="212" x2="262.3" y2="224" stroke="#fff" stroke-width="1" stroke-linecap="butt"/>
<line x1="262.3" y1="219.5" x2="262.3" y2="224" stroke="#161616" stroke-width="1" stroke-linecap="butt"/>
<path d="M227.8 245.4 C243.8 245.4 255.7 225.9 290.7 225.9 C325.7 225.9 337.6 245.4 353.6 245.4" fill="none" stroke="url(#hatch2)" stroke-width="5"/>
<path d="M227.8 243.1 C243.8 243.1 255.7 223.6 290.7 223.6 C325.7 223.6 337.6 243.1 353.6 243.1" fill="none" stroke="#1a1a1a" stroke-width="1.12"/>
<path d="M227.8 247.7 C243.8 247.7 255.7 228.2 290.7 228.2 C325.7 228.2 337.6 247.7 353.6 247.7" fill="none" stroke="#1a1a1a" stroke-width="1.12"/>
<path d="M227.8 244.6 C243.8 244.6 255.7 225.1 290.7 225.1 C325.7 225.1 337.6 244.6 353.6 244.6" fill="none" stroke="#f4f4f4" stroke-width="0.62"/>
<path d="M227.8 246.2 C243.8 246.2 255.7 226.7 290.7 226.7 C325.7 226.7 337.6 246.2 353.6 246.2" fill="none" stroke="#f4f4f4" stroke-width="0.62"/>
<rect x="227" y="243.2" width="3.4" height="4.4" rx="0" fill="#fff" stroke="#161616" stroke-width="0.88"/>
<rect x="351" y="243.2" width="3.4" height="4.4" rx="0" fill="#fff" stroke="#161616" stroke-width="0.88"/>
<path d="M227.8 254.1 C243.8 254.1 255.7 235.9 290.7 235.9 C325.7 235.9 337.6 254.1 353.6 254.1" fill="none" stroke="url(#hatch2)" stroke-width="5"/>
<path d="M227.8 251.8 C243.8 251.8 255.7 233.6 290.7 233.6 C325.7 233.6 337.6 251.8 353.6 251.8" fill="none" stroke="#1a1a1a" stroke-width="1.12"/>
<path d="M227.8 256.4 C243.8 256.4 255.7 238.2 290.7 238.2 C325.7 238.2 337.6 256.4 353.6 256.4" fill="none" stroke="#1a1a1a" stroke-width="1.12"/>
<path d="M227.8 253.3 C243.8 253.3 255.7 235.1 290.7 235.1 C325.7 235.1 337.6 253.3 353.6 253.3" fill="none" stroke="#f4f4f4" stroke-width="0.62"/>
<path d="M227.8 254.9 C243.8 254.9 255.7 236.7 290.7 236.7 C325.7 236.7 337.6 254.9 353.6 254.9" fill="none" stroke="#f4f4f4" stroke-width="0.62"/>
<rect x="227" y="251.9" width="3.4" height="4.4" rx="0" fill="#fff" stroke="#161616" stroke-width="0.88"/>
<rect x="351" y="251.9" width="3.4" height="4.4" rx="0" fill="#fff" stroke="#161616" stroke-width="0.88"/>
<path d="M227.8 263.6 C243.8 263.6 255.7 245.3 290.7 245.3 C325.7 245.3 337.6 263.6 353.6 263.6" fill="none" stroke="url(#hatch2)" stroke-width="5"/>
<path d="M227.8 261.3 C243.8 261.3 255.7 243 290.7 243 C325.7 243 337.6 261.3 353.6 261.3" fill="none" stroke="#1a1a1a" stroke-width="1.12"/>
<path d="M227.8 265.9 C243.8 265.9 255.7 247.6 290.7 247.6 C325.7 247.6 337.6 265.9 353.6 265.9" fill="none" stroke="#1a1a1a" stroke-width="1.12"/>
<path d="M227.8 262.8 C243.8 262.8 255.7 244.5 290.7 244.5 C325.7 244.5 337.6 262.8 353.6 262.8" fill="none" stroke="#f4f4f4" stroke-width="0.62"/>
<path d="M227.8 264.4 C243.8 264.4 255.7 246.1 290.7 246.1 C325.7 246.1 337.6 264.4 353.6 264.4" fill="none" stroke="#f4f4f4" stroke-width="0.62"/>
<rect x="227" y="261.4" width="3.4" height="4.4" rx="0" fill="#fff" stroke="#161616" stroke-width="0.88"/>
<rect x="351" y="261.4" width="3.4" height="4.4" rx="0" fill="#fff" stroke="#161616" stroke-width="0.88"/>
<circle cx="243" cy="258.5" r="6.6" fill="none" stroke="#161616" stroke-width="1.25"/>
<line x1="235" y1="258.5" x2="251" y2="258.5" stroke="#161616" stroke-width="0.75" stroke-linecap="butt"/>
<line x1="243" y1="250" x2="243" y2="267" stroke="#161616" stroke-width="0.75" stroke-linecap="butt"/>
<path d="M238 252 L233 255 L233 263 L238 266" fill="none" stroke="#161616" stroke-width="1"/>
<path d="M364.6 244 L373.4 252.9 L373.4 270.1 L364.6 278 Z" fill="none" stroke="#161616" stroke-width="1.2"/>
<path d="M373.2 253.4 L407.8 253.4 M373.2 269.6 L407.8 269.6 M373.2 253.4 L373.2 269.6" fill="none" stroke="#161616" stroke-width="1.25"/>
<path d="M376.8 259.6 L407.8 259.6 M376.8 263.3 L407.8 263.3 M376.8 259.6 A1.85 1.85 0 0 0 376.8 263.3" fill="none" stroke="#161616" stroke-width="1"/>
<line x1="181.5" y1="261.2" x2="412" y2="261.2" stroke="#161616" stroke-width="0.88" stroke-linecap="butt"/>
</g>
<line x1="796.8" y1="145.5" x2="796.8" y2="232" stroke="#161616" stroke-width="1" stroke-linecap="butt"/>
<line x1="994.4" y1="145.5" x2="994.4" y2="254" stroke="#161616" stroke-width="1" stroke-linecap="butt"/>
<line x1="796.8" y1="149.5" x2="994.4" y2="149.5" stroke="#161616" stroke-width="1" stroke-linecap="butt"/>
<path d="M796.8 149.5L805.3 147.65L805.3 151.35Z" fill="#161616"/>
<path d="M994.4 149.5L985.9 151.35L985.9 147.65Z" fill="#161616"/>
<line x1="796.8" y1="166.6" x2="877.5" y2="166.6" stroke="#161616" stroke-width="1" stroke-linecap="butt"/>
<path d="M796.8 166.6L805.3 164.75L805.3 168.45Z" fill="#161616"/>
<path d="M877.5 166.6L869 168.45L869 164.75Z" fill="#161616"/>
<line x1="877.5" y1="166.6" x2="994.4" y2="166.6" stroke="#161616" stroke-width="1" stroke-linecap="butt"/>
<path d="M877.5 166.6L886 164.75L886 168.45Z" fill="#161616"/>
<path d="M994.4 166.6L985.9 168.45L985.9 164.75Z" fill="#161616"/>
<line x1="877.5" y1="183.9" x2="958.5" y2="183.9" stroke="#161616" stroke-width="1" stroke-linecap="butt"/>
<path d="M877.5 183.9L886 182.05L886 185.75Z" fill="#161616"/>
<path d="M958.5 183.9L950 185.75L950 182.05Z" fill="#161616"/>
<line x1="958.5" y1="183.9" x2="994.4" y2="183.9" stroke="#161616" stroke-width="1" stroke-linecap="butt"/>
<path d="M958.5 183.9L967 182.05L967 185.75Z" fill="#161616"/>
<path d="M994.4 183.9L985.9 185.75L985.9 182.05Z" fill="#161616"/>
<line x1="877.5" y1="162" x2="877.5" y2="222" stroke="#161616" stroke-width="1" stroke-linecap="butt"/>
<line x1="958.5" y1="180" x2="958.5" y2="207" stroke="#161616" stroke-width="1" stroke-linecap="butt"/>
<line x1="959.4" y1="206.5" x2="959.4" y2="238" stroke="#161616" stroke-width="1.5" stroke-linecap="butt"/>
<line x1="965.1" y1="224" x2="965.1" y2="261" stroke="#161616" stroke-width="1" stroke-linecap="butt"/>
<line x1="959.2" y1="209.4" x2="994.4" y2="209.4" stroke="#161616" stroke-width="1" stroke-linecap="butt"/>
<path d="M959.2 209.4L967.7 207.55L967.7 211.25Z" fill="#161616"/>
<path d="M994.4 209.4L985.9 211.25L985.9 207.55Z" fill="#161616"/>
<line x1="965.9" y1="226.3" x2="994.4" y2="226.3" stroke="#161616" stroke-width="1" stroke-linecap="butt"/>
<path d="M965.9 226.3L974.4 224.45L974.4 228.15Z" fill="#161616"/>
<path d="M994.4 226.3L985.9 228.15L985.9 224.45Z" fill="#161616"/>
<line x1="994.4" y1="254.2" x2="1024.6" y2="254.2" stroke="#161616" stroke-width="1" stroke-linecap="butt"/>
<line x1="994.4" y1="269.9" x2="1024.6" y2="269.9" stroke="#161616" stroke-width="1" stroke-linecap="butt"/>
<line x1="1020.2" y1="205" x2="1020.2" y2="254.2" stroke="#161616" stroke-width="1" stroke-linecap="butt"/>
<path d="M1020.2 254.2L1018.35 245.7L1022.05 245.7Z" fill="#161616"/>
<line x1="1020.2" y1="269.9" x2="1020.2" y2="285" stroke="#161616" stroke-width="1" stroke-linecap="butt"/>
<path d="M1020.2 269.9L1022.05 278.4L1018.35 278.4Z" fill="#161616"/>
<line x1="750" y1="218.4" x2="810" y2="218.4" stroke="#161616" stroke-width="1" stroke-linecap="butt"/>
<line x1="753.6" y1="218.4" x2="753.6" y2="388.8" stroke="#161616" stroke-width="1" stroke-linecap="butt"/>
<path d="M753.6 218.4L755.45 226.9L751.75 226.9Z" fill="#161616"/>
<path d="M753.6 388.8L751.75 380.3L755.45 380.3Z" fill="#161616"/>
<line x1="770.6" y1="218.4" x2="770.6" y2="262.1" stroke="#161616" stroke-width="1" stroke-linecap="butt"/>
<path d="M770.6 218.4L772.45 226.9L768.75 226.9Z" fill="#161616"/>
<path d="M770.6 262.1L768.75 253.6L772.45 253.6Z" fill="#161616"/>
<line x1="770.6" y1="262.1" x2="770.6" y2="320.1" stroke="#161616" stroke-width="1" stroke-linecap="butt"/>
<path d="M770.6 262.1L772.45 270.6L768.75 270.6Z" fill="#161616"/>
<path d="M770.6 320.1L768.75 311.6L772.45 311.6Z" fill="#161616"/>
<line x1="770.6" y1="320.1" x2="770.6" y2="388.8" stroke="#161616" stroke-width="1" stroke-linecap="butt"/>
<path d="M770.6 320.1L772.45 328.6L768.75 328.6Z" fill="#161616"/>
<path d="M770.6 388.8L768.75 380.3L772.45 380.3Z" fill="#161616"/>
<line x1="750" y1="388.8" x2="868" y2="388.8" stroke="#161616" stroke-width="1" stroke-linecap="butt"/>
<line x1="768.5" y1="320.1" x2="810" y2="320.1" stroke="#161616" stroke-width="0.88" stroke-linecap="butt"/>
<line x1="877.3" y1="245.1" x2="877.3" y2="397.1" stroke="#161616" stroke-width="0.88" stroke-dasharray="9 2 2 2" stroke-linecap="butt"/>
<line x1="808" y1="320.1" x2="948" y2="320.1" stroke="#161616" stroke-width="0.88" stroke-dasharray="9 2 2 2" stroke-linecap="butt"/>
<text transform="translate(895.3 142.2) translate(-12.68 4.6) scale(1.1573 1)" font-size="13.18" fill="#1e1e1e" stroke="#1e1e1e" stroke-width="0.09">343</text>
<text transform="translate(837.3 159.1) translate(-12.74 4.5) scale(1.1584 1)" font-size="12.89" fill="#1e1e1e" stroke="#1e1e1e" stroke-width="0.09">140</text>
<text transform="translate(935.8 159.1) translate(-12.77 4.5) scale(1.1824 1)" font-size="12.89" fill="#1e1e1e" stroke="#1e1e1e" stroke-width="0.08">203</text>
<text transform="translate(918.4 177.1) translate(-12.52 4.5) scale(1.1385 1)" font-size="12.89" fill="#1e1e1e" stroke="#1e1e1e" stroke-width="0.09">140</text>
<text transform="translate(976.3 177.1) translate(-8.8 4.5) scale(1.2195 1)" font-size="12.89" fill="#1e1e1e" stroke="#1e1e1e" stroke-width="0.08">63</text>
<text transform="translate(976.45 203.8) translate(-9.29 4.2) scale(1.3735 1)" font-size="12.03" fill="#1e1e1e" stroke="#1e1e1e" stroke-width="0.07">60</text>
<text transform="translate(979.95 220.65) translate(-8.35 4.25) scale(1.2319 1)" font-size="12.18" fill="#1e1e1e" stroke="#1e1e1e" stroke-width="0.08">50</text>
<text transform="translate(1010.4 227.7) rotate(-90) translate(-20.17 3.3) scale(1.5381 1)" font-size="9.46" fill="#1e1e1e" stroke="#1e1e1e" stroke-width="0.07">ϕ28h7</text>
<text transform="translate(1004.45 288.15) translate(-38.42 4.45) scale(1.0204 1)" font-size="12.94" fill="#1e1e1e" stroke="#1e1e1e" stroke-width="0.1">8 x 7 keyway</text>
<line x1="959.6" y1="295" x2="1042.3" y2="295" stroke="#161616" stroke-width="1" stroke-linecap="butt"/>
<line x1="959.6" y1="295" x2="970.8" y2="265.5" stroke="#161616" stroke-width="1" stroke-linecap="butt"/>
<path d="M977.6 271 Q980 274.5 983 273 Q987.5 270 986.5 262 Q986 257 985 255.5" fill="none" stroke="#161616" stroke-width="2.4"/>
<path d="M984.3 249.3L987.66 255.44L982.49 256.06Z" fill="#161616"/>
<text transform="translate(763 240.1) rotate(-90) translate(-8.48 4.9) scale(1.0784 1)" font-size="14.04" fill="#1e1e1e" stroke="#1e1e1e" stroke-width="0.09">76</text>
<text transform="translate(764.1 289.25) rotate(-90) translate(-13.45 4.8) scale(1.1469 1)" font-size="13.75" fill="#1e1e1e" stroke="#1e1e1e" stroke-width="0.09">100</text>
<text transform="translate(746.95 303.9) rotate(-90) translate(-12.45 4.65) scale(1.1156 1)" font-size="13.32" fill="#1e1e1e" stroke="#1e1e1e" stroke-width="0.09">296</text>
<text transform="translate(764.1 352.95) rotate(-90) translate(-11.58 4.8) scale(0.9877 1)" font-size="13.75" fill="#1e1e1e" stroke="#1e1e1e" stroke-width="0.1">120</text>
<text transform="translate(819.55 176.15) translate(-41.85 4.55) scale(1.0134 1)" font-size="13.23" fill="#1e1e1e" stroke="#1e1e1e" stroke-width="0.1">Pressure vent</text>
<line x1="774" y1="184" x2="864.4" y2="184" stroke="#161616" stroke-width="1" stroke-linecap="butt"/>
<line x1="864.4" y1="184" x2="850.8" y2="214.5" stroke="#161616" stroke-width="1" stroke-linecap="butt"/>
<path d="M850.3 215.5L851.74 206.92L855.17 208.3Z" fill="#161616"/>
<text transform="translate(715.5 189.35) translate(-24.75 4.55) scale(0.8735 1)" font-size="13.23" fill="#1e1e1e" stroke="#1e1e1e" stroke-width="0.11">Oil gauge</text>
<text transform="translate(729.15 207.2) translate(-38.56 4.2) scale(0.9314 1)" font-size="12.21" fill="#1e1e1e" stroke="#1e1e1e" stroke-width="0.11">(Opposite side)</text>
<line x1="690.6" y1="198.1" x2="765.6" y2="198.1" stroke="#161616" stroke-width="1" stroke-linecap="butt"/>
<line x1="765.6" y1="198.1" x2="823" y2="255" stroke="#161616" stroke-width="1" stroke-linecap="butt"/>
<text transform="translate(988 366.35) translate(-55.64 4.55) scale(0.9692 1)" font-size="13.23" fill="#1e1e1e" stroke="#1e1e1e" stroke-width="0.1">2-M10 tap, 20 deep</text>
<line x1="930.7" y1="375" x2="1045.3" y2="375" stroke="#161616" stroke-width="1" stroke-linecap="butt"/>
<line x1="930.7" y1="375" x2="880" y2="318.5" stroke="#161616" stroke-width="1" stroke-linecap="butt"/>
<text transform="translate(967.85 391.95) translate(-66.49 4.35) scale(0.6860 1)" font-size="12.65" fill="#1e1e1e" stroke="#1e1e1e" stroke-width="0.15">6-M10 tap, 20 deep evenly spaced</text>
<line x1="901.8" y1="400.2" x2="1035.4" y2="400.2" stroke="#161616" stroke-width="1" stroke-linecap="butt"/>
<line x1="901.8" y1="400.2" x2="879.5" y2="381.5" stroke="#161616" stroke-width="1" stroke-linecap="butt"/>
<text transform="translate(935.25 408.9) translate(-31.63 4.1) scale(1.1940 1)" font-size="11.92" fill="#1e1e1e" stroke="#1e1e1e" stroke-width="0.08">(PCD205)</text>
<text transform="translate(827.3 407.1) translate(-31.53 4.4) scale(1.0775 1)" font-size="12.79" fill="#1e1e1e" stroke="#1e1e1e" stroke-width="0.09">Drain plug</text>
<line x1="858.9" y1="415.6" x2="876.6" y2="393.5" stroke="#161616" stroke-width="1" stroke-linecap="butt"/>
<path d="M877 392.8L873.1 400.57L870.22 398.25Z" fill="#161616"/>
<line x1="849.7" y1="307.7" x2="849.7" y2="313.7" stroke="#161616" stroke-width="1" stroke-linecap="butt"/>
<path d="M849.7 313.7L847.85 305.2L851.55 305.2Z" fill="#161616"/>
<line x1="849.7" y1="326.1" x2="849.7" y2="332.1" stroke="#161616" stroke-width="1" stroke-linecap="butt"/>
<path d="M849.7 326.1L851.55 334.6L847.85 334.6Z" fill="#161616"/>
<text transform="translate(841.2 319.6) rotate(90) translate(-7.42 3.8) scale(1.2255 1)" font-size="10.89" fill="#1e1e1e" stroke="#1e1e1e" stroke-width="0.08">22</text>
<g transform="translate(615.6 0)">
<path d="M560.5 264 L560.5 227.5 Q560.5 225.2 563 225.2 L569 225.2" fill="none" stroke="#161616" stroke-width="1.4"/>
<path d="M647.6 264 L647.6 227.5 Q647.6 225.2 645 225.2 L639 225.2" fill="none" stroke="#161616" stroke-width="1.4"/>
<line x1="561" y1="244" x2="568.5" y2="247.5" stroke="#161616" stroke-width="1" stroke-linecap="butt"/>
<line x1="647" y1="244" x2="639.5" y2="247.5" stroke="#161616" stroke-width="1" stroke-linecap="butt"/>
<line x1="561" y1="249" x2="568.5" y2="252.5" stroke="#161616" stroke-width="1" stroke-linecap="butt"/>
<line x1="647" y1="249" x2="639.5" y2="252.5" stroke="#161616" stroke-width="1" stroke-linecap="butt"/>
<line x1="561" y1="254" x2="568.5" y2="257.5" stroke="#161616" stroke-width="1" stroke-linecap="butt"/>
<line x1="647" y1="254" x2="639.5" y2="257.5" stroke="#161616" stroke-width="1" stroke-linecap="butt"/>
<line x1="561" y1="259" x2="568.5" y2="262.5" stroke="#161616" stroke-width="1" stroke-linecap="butt"/>
<line x1="647" y1="259" x2="639.5" y2="262.5" stroke="#161616" stroke-width="1" stroke-linecap="butt"/>
<line x1="560.5" y1="264" x2="569" y2="264" stroke="#161616" stroke-width="1" stroke-linecap="butt"/>
<line x1="647.6" y1="264" x2="639" y2="264" stroke="#161616" stroke-width="1" stroke-linecap="butt"/>
<path d="M569 319.2 L569 218 L639.2 218 L639.2 383 Q639.2 387.2 635 387.2 L568.5 387.2 L567 385.3 L551.5 385.3" fill="none" stroke="#161616" stroke-width="2"/>
<line x1="644.5" y1="264" x2="644.5" y2="380.5" stroke="#161616" stroke-width="1.25" stroke-linecap="butt"/>
<line x1="641.6" y1="264" x2="641.6" y2="383" stroke="#161616" stroke-width="1" stroke-linecap="butt"/>
<line x1="641.6" y1="380.5" x2="647" y2="380.5" stroke="#161616" stroke-width="1" stroke-linecap="butt"/>
<rect x="646.6" y="265" width="3.4" height="105" rx="0" fill="#fff" stroke="#161616" stroke-width="1.12"/>
<rect x="649.4" y="283" width="4.4" height="60" rx="2" fill="#fff" stroke="#161616" stroke-width="1.25"/>
<rect x="646.5" y="264.9" width="6.5" height="8.5" rx="0" fill="#777" stroke="#161616" stroke-width="1.25"/>
<rect x="646.5" y="362.5" width="5.5" height="8.5" rx="0" fill="#777" stroke="#161616" stroke-width="1.25"/>
<path d="M577 292.3 Q572.8 292.3 572.8 288 L572.8 245 Q574 233 578.4 229.3 L630.7 229.3 Q634.5 233 635.7 245 L635.7 288 Q635.7 292.3 631.5 292.3 Z" fill="none" stroke="#161616" stroke-width="1.6"/>
<circle cx="581.2" cy="238.7" r="4.1" fill="none" stroke="#161616" stroke-width="1.7"/>
<circle cx="581.2" cy="238.7" r="2.2" fill="none" stroke="#161616" stroke-width="1"/>
<line x1="579.2" y1="238.7" x2="583.2" y2="238.7" stroke="#161616" stroke-width="0.62" stroke-linecap="butt"/>
<line x1="581.2" y1="236.7" x2="581.2" y2="240.7" stroke="#161616" stroke-width="0.62" stroke-linecap="butt"/>
<circle cx="626" cy="238.7" r="4.1" fill="none" stroke="#161616" stroke-width="1.7"/>
<circle cx="626" cy="238.7" r="2.2" fill="none" stroke="#161616" stroke-width="1"/>
<line x1="624" y1="238.7" x2="628" y2="238.7" stroke="#161616" stroke-width="0.62" stroke-linecap="butt"/>
<line x1="626" y1="236.7" x2="626" y2="240.7" stroke="#161616" stroke-width="0.62" stroke-linecap="butt"/>
<circle cx="581.2" cy="283.6" r="4.1" fill="none" stroke="#161616" stroke-width="1.7"/>
<circle cx="581.2" cy="283.6" r="2.2" fill="none" stroke="#161616" stroke-width="1"/>
<line x1="579.2" y1="283.6" x2="583.2" y2="283.6" stroke="#161616" stroke-width="0.62" stroke-linecap="butt"/>
<line x1="581.2" y1="281.6" x2="581.2" y2="285.6" stroke="#161616" stroke-width="0.62" stroke-linecap="butt"/>
<circle cx="626" cy="283.6" r="4.1" fill="none" stroke="#161616" stroke-width="1.7"/>
<circle cx="626" cy="283.6" r="2.2" fill="none" stroke="#161616" stroke-width="1"/>
<line x1="624" y1="283.6" x2="628" y2="283.6" stroke="#161616" stroke-width="0.62" stroke-linecap="butt"/>
<line x1="626" y1="281.6" x2="626" y2="285.6" stroke="#161616" stroke-width="0.62" stroke-linecap="butt"/>
<circle cx="603.6" cy="260.7" r="20.6" fill="none" stroke="#161616" stroke-width="1.25"/>
<circle cx="603.6" cy="260.7" r="16.4" fill="none" stroke="#161616" stroke-width="1.25"/>
<circle cx="603.6" cy="260.7" r="10.8" fill="none" stroke="#161616" stroke-width="1.2"/>
<circle cx="603.6" cy="260.7" r="8.4" fill="none" stroke="#161616" stroke-width="1.12"/>
<rect x="594.3" y="258.3" width="4.6" height="5.6" rx="0" fill="#fff" stroke="#161616" stroke-width="1"/>
<circle cx="603.6" cy="313.1" r="8.4" fill="none" stroke="#161616" stroke-width="1.25"/>
<circle cx="603.6" cy="313.1" r="5.4" fill="none" stroke="#161616" stroke-width="1.8"/>
<circle cx="603.6" cy="313.1" r="2.8" fill="none" stroke="#161616" stroke-width="1"/>
<rect x="572.4" y="387.4" width="13.2" height="3.9" rx="0" fill="#fff" stroke="#161616" stroke-width="1.1"/>
<path d="M569.2 217.7 L569.2 214 Q569.2 212.6 572.5 212.4 L572.5 196.5 A2.9 2.9 0 0 1 578.3 196.5 L578.3 212.4 Q581.6 212.6 581.6 214 L581.6 217.7" fill="#fff" stroke="#161616" stroke-width="1.6"/>
<line x1="575.4" y1="190.5" x2="575.4" y2="221" stroke="#161616" stroke-width="0.75" stroke-linecap="butt"/>
<line x1="572.5" y1="205" x2="578.3" y2="205" stroke="#161616" stroke-width="0.75" stroke-linecap="butt"/>
<path d="M626.2 217.7 L626.2 214 Q626.2 212.6 629.5 212.4 L629.5 196.5 A2.9 2.9 0 0 1 635.3 196.5 L635.3 212.4 Q638.6 212.6 638.6 214 L638.6 217.7" fill="#fff" stroke="#161616" stroke-width="1.6"/>
<line x1="632.4" y1="190.5" x2="632.4" y2="221" stroke="#161616" stroke-width="0.75" stroke-linecap="butt"/>
<line x1="629.5" y1="205" x2="635.3" y2="205" stroke="#161616" stroke-width="0.75" stroke-linecap="butt"/>
<path d="M617.5 218 Q618 214.6 622 214.6 L626.8 214.6 L626.8 218 Z" fill="#222"/>
<line x1="603.6" y1="179" x2="603.6" y2="226" stroke="#161616" stroke-width="0.88" stroke-linecap="butt"/>
<line x1="603.6" y1="226" x2="603.6" y2="392" stroke="#161616" stroke-width="0.88" stroke-dasharray="10 2 2 2" stroke-linecap="butt"/>
<line x1="556" y1="260.7" x2="656" y2="260.7" stroke="#161616" stroke-width="0.88" stroke-dasharray="10 2 2 2" stroke-linecap="butt"/>
<line x1="551.5" y1="319.2" x2="661" y2="319.2" stroke="#161616" stroke-width="0.88" stroke-dasharray="10 2 2 2" stroke-linecap="butt"/>
</g>
<line x1="1167.8" y1="253" x2="1167.8" y2="385.8" stroke="#161616" stroke-width="1.8" stroke-linecap="butt"/>
<line x1="1167.8" y1="253" x2="1184.5" y2="253" stroke="#161616" stroke-width="1.2" stroke-linecap="butt"/>
<line x1="1171.2" y1="268" x2="1171.2" y2="373.2" stroke="#161616" stroke-width="1.25" stroke-dasharray="4 2" stroke-linecap="butt"/>
<rect x="1116.7" y="307.6" width="51.1" height="25.9" rx="0" fill="#fff" stroke="#161616" stroke-width="1.6"/>
<path d="M1117.5 316.8 L1161.8 316.8 A3.35 3.35 0 0 1 1161.8 323.5 L1117.5 323.5" fill="none" stroke="#161616" stroke-width="1.12"/>
<line x1="1112" y1="319.6" x2="1170" y2="319.6" stroke="#161616" stroke-width="0.88" stroke-dasharray="9 2 2 2" stroke-linecap="butt"/>
<path d="M1131.5 327.5 Q1127 316 1134 306 Q1140 300 1143.5 307" fill="none" stroke="#161616" stroke-width="2.3"/>
<path d="M1131.5 333.5L1129.25 326.38L1134.45 326.64Z" fill="#161616"/>
<line x1="1117.8" y1="162" x2="1117.8" y2="307" stroke="#161616" stroke-width="1" stroke-linecap="butt"/>
<line x1="1268.4" y1="162" x2="1268.4" y2="265" stroke="#161616" stroke-width="1" stroke-linecap="butt"/>
<line x1="1167.8" y1="180" x2="1167.8" y2="253" stroke="#161616" stroke-width="1" stroke-linecap="butt"/>
<line x1="1219.2" y1="180" x2="1219.2" y2="200" stroke="#161616" stroke-width="1" stroke-linecap="butt"/>
<line x1="1117.8" y1="166.3" x2="1268.4" y2="166.3" stroke="#161616" stroke-width="1" stroke-linecap="butt"/>
<path d="M1117.8 166.3L1126.3 164.45L1126.3 168.15Z" fill="#161616"/>
<path d="M1268.4 166.3L1259.9 168.15L1259.9 164.45Z" fill="#161616"/>
<line x1="1117.8" y1="183.8" x2="1167.8" y2="183.8" stroke="#161616" stroke-width="1" stroke-linecap="butt"/>
<path d="M1117.8 183.8L1126.3 181.95L1126.3 185.65Z" fill="#161616"/>
<path d="M1167.8 183.8L1159.3 185.65L1159.3 181.95Z" fill="#161616"/>
<line x1="1167.8" y1="183.8" x2="1219.2" y2="183.8" stroke="#161616" stroke-width="1" stroke-linecap="butt"/>
<path d="M1167.8 183.8L1176.3 181.95L1176.3 185.65Z" fill="#161616"/>
<path d="M1219.2 183.8L1210.7 185.65L1210.7 181.95Z" fill="#161616"/>
<line x1="1219.2" y1="183.8" x2="1268.4" y2="183.8" stroke="#161616" stroke-width="1" stroke-linecap="butt"/>
<path d="M1219.2 183.8L1227.7 181.95L1227.7 185.65Z" fill="#161616"/>
<path d="M1268.4 183.8L1259.9 185.65L1259.9 181.95Z" fill="#161616"/>
<text transform="translate(1192.3 160.6) translate(-13.09 4.6) scale(1.1856 1)" font-size="13.18" fill="#1e1e1e" stroke="#1e1e1e" stroke-width="0.08">263</text>
<text transform="translate(1142.45 177.85) translate(-8.52 4.35) scale(1.2284 1)" font-size="12.46" fill="#1e1e1e" stroke="#1e1e1e" stroke-width="0.08">88</text>
<text transform="translate(1193.6 177.85) translate(-8.95 4.35) scale(1.2820 1)" font-size="12.46" fill="#1e1e1e" stroke="#1e1e1e" stroke-width="0.08">90</text>
<text transform="translate(1244 177.85) translate(-8.68 4.35) scale(1.2501 1)" font-size="12.46" fill="#1e1e1e" stroke="#1e1e1e" stroke-width="0.08">85</text>
<line x1="1117.8" y1="279.8" x2="1167.8" y2="279.8" stroke="#161616" stroke-width="1" stroke-linecap="butt"/>
<path d="M1117.8 279.8L1126.3 277.95L1126.3 281.65Z" fill="#161616"/>
<path d="M1167.8 279.8L1159.3 281.65L1159.3 277.95Z" fill="#161616"/>
<line x1="1117.8" y1="293.7" x2="1161.2" y2="293.7" stroke="#161616" stroke-width="1" stroke-linecap="butt"/>
<path d="M1117.8 293.7L1126.3 291.85L1126.3 295.55Z" fill="#161616"/>
<path d="M1161.2 293.7L1152.7 295.55L1152.7 291.85Z" fill="#161616"/>
<line x1="1161.2" y1="289.7" x2="1161.2" y2="316.8" stroke="#161616" stroke-width="1" stroke-linecap="butt"/>
<text transform="translate(1142.35 272.8) translate(-9.77 4.8) scale(1.2680 1)" font-size="13.75" fill="#1e1e1e" stroke="#1e1e1e" stroke-width="0.08">90</text>
<text transform="translate(1139.35 286.8) translate(-8.75 4.8) scale(1.1345 1)" font-size="13.75" fill="#1e1e1e" stroke="#1e1e1e" stroke-width="0.09">75</text>
<line x1="1052" y1="253.1" x2="1167.8" y2="253.1" stroke="#161616" stroke-width="1" stroke-linecap="butt"/>
<line x1="1052" y1="384.3" x2="1167.8" y2="384.3" stroke="#161616" stroke-width="1" stroke-linecap="butt"/>
<line x1="1056.7" y1="253.1" x2="1056.7" y2="384.3" stroke="#161616" stroke-width="1" stroke-linecap="butt"/>
<path d="M1056.7 253.1L1058.55 261.6L1054.85 261.6Z" fill="#161616"/>
<path d="M1056.7 384.3L1054.85 375.8L1058.55 375.8Z" fill="#161616"/>
<line x1="1069" y1="266.1" x2="1171" y2="266.1" stroke="#161616" stroke-width="1" stroke-linecap="butt"/>
<line x1="1069" y1="372.4" x2="1171" y2="372.4" stroke="#161616" stroke-width="1" stroke-linecap="butt"/>
<line x1="1073.8" y1="266.1" x2="1073.8" y2="372.4" stroke="#161616" stroke-width="1" stroke-linecap="butt"/>
<path d="M1073.8 266.1L1075.65 274.6L1071.95 274.6Z" fill="#161616"/>
<path d="M1073.8 372.4L1071.95 363.9L1075.65 363.9Z" fill="#161616"/>
<line x1="1088" y1="307.6" x2="1116.7" y2="307.6" stroke="#161616" stroke-width="1" stroke-linecap="butt"/>
<line x1="1088" y1="333.5" x2="1116.7" y2="333.5" stroke="#161616" stroke-width="1" stroke-linecap="butt"/>
<line x1="1092.9" y1="307.6" x2="1092.9" y2="333.5" stroke="#161616" stroke-width="1" stroke-linecap="butt"/>
<path d="M1092.9 307.6L1094.75 316.1L1091.05 316.1Z" fill="#161616"/>
<path d="M1092.9 333.5L1091.05 325L1094.75 325Z" fill="#161616"/>
<text transform="translate(1048.65 318.75) rotate(-90) translate(-17.36 3.65) scale(1.4896 1)" font-size="10.46" fill="#1e1e1e" stroke="#1e1e1e" stroke-width="0.07">ϕ230</text>
<text transform="translate(1065.9 319.7) rotate(-90) translate(-26.29 3.6) scale(1.4581 1)" font-size="10.32" fill="#1e1e1e" stroke="#1e1e1e" stroke-width="0.07">ϕ185H7</text>
<text transform="translate(1083.9 319.7) rotate(-90) translate(-20.27 3.6) scale(1.4171 1)" font-size="10.32" fill="#1e1e1e" stroke="#1e1e1e" stroke-width="0.07">ϕ45h7</text>
<line x1="1150" y1="347.4" x2="1167.8" y2="347.4" stroke="#161616" stroke-width="1" stroke-linecap="butt"/>
<path d="M1167.8 347.4L1159.3 349.25L1159.3 345.55Z" fill="#161616"/>
<line x1="1171.2" y1="347.4" x2="1180" y2="347.4" stroke="#161616" stroke-width="1" stroke-linecap="butt"/>
<path d="M1171.2 347.4L1179.7 345.55L1179.7 349.25Z" fill="#161616"/>
<line x1="1150" y1="364.5" x2="1167.8" y2="364.5" stroke="#161616" stroke-width="1" stroke-linecap="butt"/>
<path d="M1167.8 364.5L1159.3 366.35L1159.3 362.65Z" fill="#161616"/>
<line x1="1171.2" y1="364.5" x2="1180" y2="364.5" stroke="#161616" stroke-width="1" stroke-linecap="butt"/>
<path d="M1171.2 364.5L1179.7 362.65L1179.7 366.35Z" fill="#161616"/>
<text transform="translate(1155.25 342.6) translate(-4.62 4) scale(1.4538 1)" font-size="11.46" fill="#1e1e1e" stroke="#1e1e1e" stroke-width="0.07">5</text>
<text transform="translate(1155.25 357.2) translate(-4.84 4.2) scale(1.4441 1)" font-size="12.03" fill="#1e1e1e" stroke="#1e1e1e" stroke-width="0.07">7</text>
<text transform="translate(1078.75 402.3) translate(-35.6 4.3) scale(0.8884 1)" font-size="12.5" fill="#1e1e1e" stroke="#1e1e1e" stroke-width="0.11">14 x 9 keyway</text>
<line x1="1040" y1="411" x2="1115.5" y2="411" stroke="#161616" stroke-width="1" stroke-linecap="butt"/>
<line x1="1115.5" y1="411" x2="1141.4" y2="327.5" stroke="#161616" stroke-width="1" stroke-linecap="butt"/>
</svg></body></html>
